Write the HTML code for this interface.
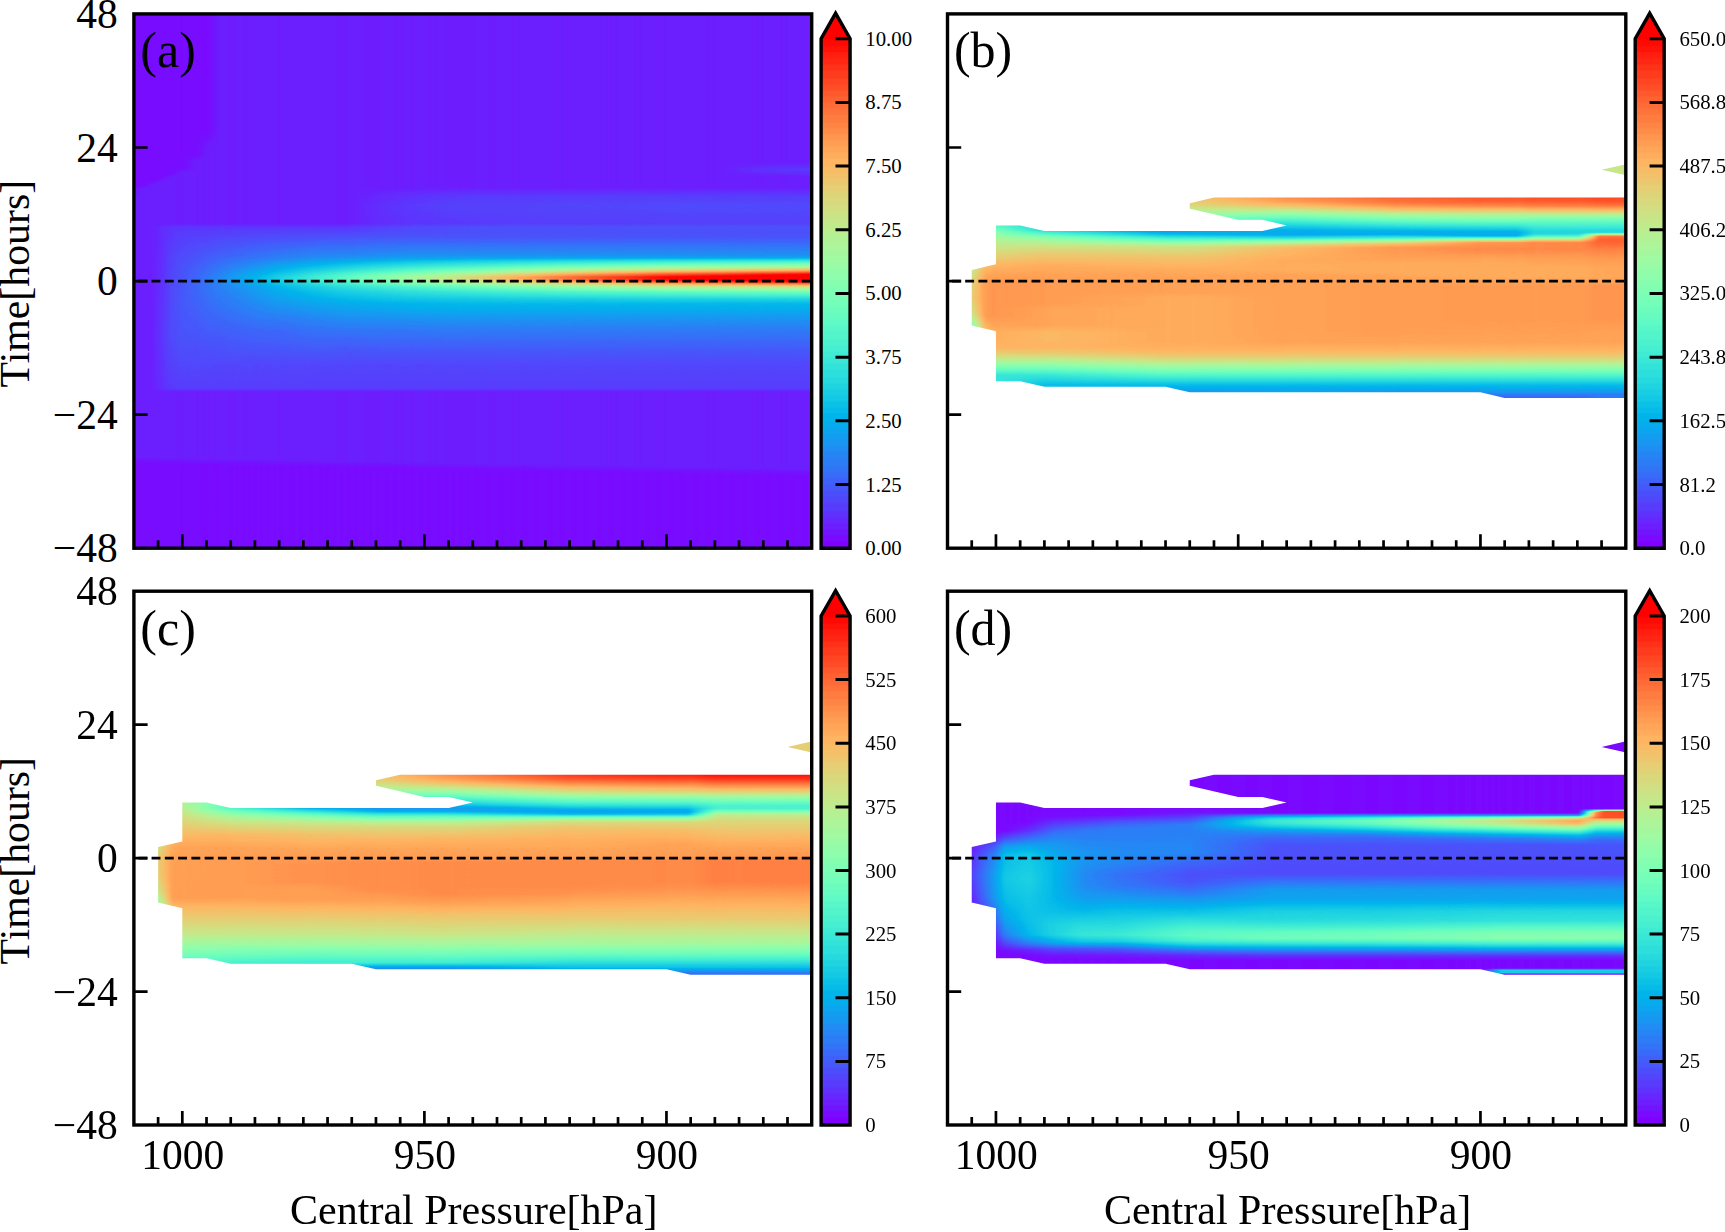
<!DOCTYPE html>
<html lang="en"><head><meta charset="utf-8"><title>Figure</title>
<style>html,body{margin:0;padding:0;background:#fff}svg{display:block}text{font-family:'Liberation Serif', 'Times New Roman', serif;fill:#000}</style></head><body>
<svg width="1725" height="1232" viewBox="0 0 1725 1232">
<rect width="1725" height="1232" fill="#fff"/>
<defs>
<linearGradient id="rg" x1="0" y1="0" x2="1" y2="0"><stop offset="0" stop-color="#fff" stop-opacity="0"/><stop offset="1" stop-color="#fff" stop-opacity="1"/></linearGradient>
<mask id="ramp" maskContentUnits="objectBoundingBox"><rect width="1" height="1" fill="url(#rg)"/></mask>
<filter id="cm" filterUnits="userSpaceOnUse" x="0" y="0" width="1725" height="1232" color-interpolation-filters="sRGB">
<feGaussianBlur stdDeviation="1.5 0"/><feComponentTransfer><feFuncR type="table" tableValues="0.5 0.475 0.45 0.425 0.4 0.375 0.35 0.325 0.3 0.275 0.25 0.225 0.2 0.175 0.15 0.125 0.1 0.075 0.05 0.025 0 0.025 0.05 0.075 0.1 0.125 0.15 0.175 0.2 0.225 0.25 0.275 0.3 0.325 0.35 0.375 0.4 0.425 0.45 0.475 0.5 0.525 0.55 0.575 0.6 0.625 0.65 0.675 0.7 0.725 0.75 0.775 0.8 0.825 0.85 0.875 0.9 0.925 0.95 0.975 1 1 1 1 1 1 1 1 1 1 1 1 1 1 1 1 1 1 1 1 1"/><feFuncG type="table" tableValues="0 0.039 0.078 0.118 0.156 0.195 0.233 0.271 0.309 0.346 0.383 0.419 0.454 0.489 0.522 0.556 0.588 0.619 0.649 0.679 0.707 0.734 0.76 0.785 0.809 0.831 0.853 0.872 0.891 0.908 0.924 0.938 0.951 0.962 0.972 0.981 0.988 0.993 0.997 0.999 1 0.999 0.997 0.993 0.988 0.981 0.972 0.962 0.951 0.938 0.924 0.908 0.891 0.872 0.853 0.831 0.809 0.785 0.76 0.734 0.707 0.679 0.649 0.619 0.588 0.556 0.522 0.489 0.454 0.419 0.383 0.346 0.309 0.271 0.233 0.195 0.156 0.118 0.078 0.039 0"/><feFuncB type="table" tableValues="1 1 0.999 0.998 0.997 0.995 0.993 0.991 0.988 0.984 0.981 0.977 0.972 0.968 0.962 0.957 0.951 0.945 0.938 0.931 0.924 0.916 0.908 0.9 0.891 0.882 0.872 0.863 0.853 0.842 0.831 0.82 0.809 0.797 0.785 0.773 0.76 0.748 0.734 0.721 0.707 0.693 0.679 0.664 0.649 0.634 0.619 0.604 0.588 0.572 0.556 0.539 0.522 0.506 0.489 0.471 0.454 0.436 0.419 0.401 0.383 0.364 0.346 0.328 0.309 0.29 0.271 0.252 0.233 0.214 0.195 0.176 0.156 0.137 0.118 0.098 0.078 0.059 0.039 0.02 0"/></feComponentTransfer></filter>
<filter id="cd" filterUnits="userSpaceOnUse" x="0" y="0" width="1725" height="1232" color-interpolation-filters="sRGB">
<feComponentTransfer><feFuncR type="discrete" tableValues="0.5 0.475 0.45 0.425 0.4 0.375 0.35 0.325 0.3 0.275 0.25 0.225 0.2 0.175 0.15 0.125 0.1 0.075 0.05 0.025 0 0.025 0.05 0.075 0.1 0.125 0.15 0.175 0.2 0.225 0.25 0.275 0.3 0.325 0.35 0.375 0.4 0.425 0.45 0.475 0.5 0.525 0.55 0.575 0.6 0.625 0.65 0.675 0.7 0.725 0.75 0.775 0.8 0.825 0.85 0.875 0.9 0.925 0.95 0.975 1 1 1 1 1 1 1 1 1 1 1 1 1 1 1 1 1 1 1 1 1"/><feFuncG type="discrete" tableValues="0 0.039 0.078 0.118 0.156 0.195 0.233 0.271 0.309 0.346 0.383 0.419 0.454 0.489 0.522 0.556 0.588 0.619 0.649 0.679 0.707 0.734 0.76 0.785 0.809 0.831 0.853 0.872 0.891 0.908 0.924 0.938 0.951 0.962 0.972 0.981 0.988 0.993 0.997 0.999 1 0.999 0.997 0.993 0.988 0.981 0.972 0.962 0.951 0.938 0.924 0.908 0.891 0.872 0.853 0.831 0.809 0.785 0.76 0.734 0.707 0.679 0.649 0.619 0.588 0.556 0.522 0.489 0.454 0.419 0.383 0.346 0.309 0.271 0.233 0.195 0.156 0.118 0.078 0.039 0"/><feFuncB type="discrete" tableValues="1 1 0.999 0.998 0.997 0.995 0.993 0.991 0.988 0.984 0.981 0.977 0.972 0.968 0.962 0.957 0.951 0.945 0.938 0.931 0.924 0.916 0.908 0.9 0.891 0.882 0.872 0.863 0.853 0.842 0.831 0.82 0.809 0.797 0.785 0.773 0.76 0.748 0.734 0.721 0.707 0.693 0.679 0.664 0.649 0.634 0.619 0.604 0.588 0.572 0.556 0.539 0.522 0.506 0.489 0.471 0.454 0.436 0.419 0.401 0.383 0.364 0.346 0.328 0.309 0.29 0.271 0.252 0.233 0.214 0.195 0.176 0.156 0.137 0.118 0.098 0.078 0.059 0.039 0.02 0"/></feComponentTransfer></filter>
<linearGradient id="a0" x1="0" y1="0" x2="0" y2="1">
<stop offset="0" stop-color="#040404"/><stop offset=".3344" stop-color="#040404"/><stop offset=".3385" stop-color="#0a0a0a"/><stop offset=".8292" stop-color="#0a0a0a"/><stop offset=".8417" stop-color="#040404"/><stop offset="1" stop-color="#040404"/>
</linearGradient>
<linearGradient id="a1" x1="0" y1="0" x2="0" y2="1">
<stop offset="0" stop-color="#040404"/><stop offset=".3208" stop-color="#040404"/><stop offset=".3271" stop-color="#0a0a0a"/><stop offset=".8292" stop-color="#0a0a0a"/><stop offset=".8427" stop-color="#040404"/><stop offset="1" stop-color="#040404"/>
</linearGradient>
<linearGradient id="a2" x1="0" y1="0" x2="0" y2="1">
<stop offset="0" stop-color="#040404"/><stop offset=".3135" stop-color="#040404"/><stop offset=".3198" stop-color="#0a0a0a"/><stop offset=".6042" stop-color="#0b0b0b"/><stop offset=".8292" stop-color="#0a0a0a"/><stop offset=".8427" stop-color="#040404"/><stop offset="1" stop-color="#040404"/>
</linearGradient>
<linearGradient id="a3" x1="0" y1="0" x2="0" y2="1">
<stop offset="0" stop-color="#040404"/><stop offset=".3104" stop-color="#040404"/><stop offset=".3167" stop-color="#0a0a0a"/><stop offset=".3927" stop-color="#0a0a0a"/><stop offset=".399" stop-color="#0c0c0c"/><stop offset=".6042" stop-color="#0e0e0e"/><stop offset=".701" stop-color="#0d0d0d"/><stop offset=".7073" stop-color="#0a0a0a"/><stop offset=".8292" stop-color="#0a0a0a"/><stop offset=".8427" stop-color="#040404"/><stop offset="1" stop-color="#040404"/>
</linearGradient>
<linearGradient id="a4" x1="0" y1="0" x2="0" y2="1">
<stop offset="0" stop-color="#040404"/><stop offset=".3063" stop-color="#040404"/><stop offset=".3125" stop-color="#0a0a0a"/><stop offset=".3927" stop-color="#0a0a0a"/><stop offset=".399" stop-color="#0e0e0e"/><stop offset=".6042" stop-color="#121212"/><stop offset=".701" stop-color="#0f0f0f"/><stop offset=".7073" stop-color="#0a0a0a"/><stop offset=".8302" stop-color="#0a0a0a"/><stop offset=".8427" stop-color="#040404"/><stop offset="1" stop-color="#040404"/>
</linearGradient>
<linearGradient id="a5" x1="0" y1="0" x2="0" y2="1">
<stop offset="0" stop-color="#040404"/><stop offset=".3021" stop-color="#040404"/><stop offset=".3083" stop-color="#0a0a0a"/><stop offset=".3927" stop-color="#0a0a0a"/><stop offset=".399" stop-color="#101010"/><stop offset=".4583" stop-color="#131313"/><stop offset=".6042" stop-color="#161616"/><stop offset=".701" stop-color="#121212"/><stop offset=".7073" stop-color="#0a0a0a"/><stop offset=".8302" stop-color="#0a0a0a"/><stop offset=".8438" stop-color="#040404"/><stop offset="1" stop-color="#040404"/>
</linearGradient>
<linearGradient id="a6" x1="0" y1="0" x2="0" y2="1">
<stop offset="0" stop-color="#040404"/><stop offset=".2979" stop-color="#040404"/><stop offset=".3042" stop-color="#0a0a0a"/><stop offset=".3927" stop-color="#0a0a0a"/><stop offset=".399" stop-color="#111111"/><stop offset=".4583" stop-color="#161616"/><stop offset=".5198" stop-color="#181818"/><stop offset=".6042" stop-color="#181818"/><stop offset=".701" stop-color="#131313"/><stop offset=".7073" stop-color="#0a0a0a"/><stop offset=".8302" stop-color="#0a0a0a"/><stop offset=".8438" stop-color="#040404"/><stop offset="1" stop-color="#040404"/>
</linearGradient>
<linearGradient id="a7" x1="0" y1="0" x2="0" y2="1">
<stop offset="0" stop-color="#040404"/><stop offset=".2875" stop-color="#040404"/><stop offset=".2917" stop-color="#060606"/><stop offset=".2958" stop-color="#0a0a0a"/><stop offset=".3927" stop-color="#0a0a0a"/><stop offset=".399" stop-color="#121212"/><stop offset=".4688" stop-color="#1a1a1a"/><stop offset=".5333" stop-color="#1d1d1d"/><stop offset=".6042" stop-color="#1b1b1b"/><stop offset=".701" stop-color="#141414"/><stop offset=".7073" stop-color="#0a0a0a"/><stop offset=".8302" stop-color="#0a0a0a"/><stop offset=".8438" stop-color="#040404"/><stop offset="1" stop-color="#040404"/>
</linearGradient>
<linearGradient id="a8" x1="0" y1="0" x2="0" y2="1">
<stop offset="0" stop-color="#040404"/><stop offset=".2635" stop-color="#040404"/><stop offset=".276" stop-color="#0a0a0a"/><stop offset=".3927" stop-color="#0a0a0a"/><stop offset=".399" stop-color="#121212"/><stop offset=".4688" stop-color="#1e1e1e"/><stop offset=".4927" stop-color="#212121"/><stop offset=".5198" stop-color="#222222"/><stop offset=".701" stop-color="#141414"/><stop offset=".7073" stop-color="#0a0a0a"/><stop offset=".8313" stop-color="#0a0a0a"/><stop offset=".8448" stop-color="#040404"/><stop offset="1" stop-color="#040404"/>
</linearGradient>
<linearGradient id="a9" x1="0" y1="0" x2="0" y2="1">
<stop offset="0" stop-color="#040404"/><stop offset=".2188" stop-color="#040404"/><stop offset=".25" stop-color="#0a0a0a"/><stop offset=".3927" stop-color="#0a0a0a"/><stop offset=".399" stop-color="#121212"/><stop offset=".4344" stop-color="#191919"/><stop offset=".4927" stop-color="#282828"/><stop offset=".4979" stop-color="#282828"/><stop offset=".5333" stop-color="#252525"/><stop offset=".6562" stop-color="#171717"/><stop offset=".701" stop-color="#141414"/><stop offset=".7073" stop-color="#0a0a0a"/><stop offset=".8313" stop-color="#0a0a0a"/><stop offset=".8448" stop-color="#040404"/><stop offset="1" stop-color="#040404"/>
</linearGradient>
<linearGradient id="a10" x1="0" y1="0" x2="0" y2="1">
<stop offset="0" stop-color="#0a0a0a"/><stop offset=".3927" stop-color="#0a0a0a"/><stop offset=".399" stop-color="#121212"/><stop offset=".4521" stop-color="#202020"/><stop offset=".4927" stop-color="#2e2e2e"/><stop offset=".4979" stop-color="#2e2e2e"/><stop offset=".5917" stop-color="#1f1f1f"/><stop offset=".6562" stop-color="#171717"/><stop offset=".701" stop-color="#141414"/><stop offset=".7073" stop-color="#0a0a0a"/><stop offset=".8313" stop-color="#0a0a0a"/><stop offset=".8448" stop-color="#040404"/><stop offset="1" stop-color="#040404"/>
</linearGradient>
<linearGradient id="a11" x1="0" y1="0" x2="0" y2="1">
<stop offset="0" stop-color="#0a0a0a"/><stop offset=".3927" stop-color="#0a0a0a"/><stop offset=".399" stop-color="#121212"/><stop offset=".4521" stop-color="#212121"/><stop offset=".4927" stop-color="#343434"/><stop offset=".499" stop-color="#343434"/><stop offset=".5115" stop-color="#2f2f2f"/><stop offset=".5917" stop-color="#202020"/><stop offset=".6562" stop-color="#171717"/><stop offset=".701" stop-color="#141414"/><stop offset=".7073" stop-color="#0a0a0a"/><stop offset=".8323" stop-color="#0a0a0a"/><stop offset=".8458" stop-color="#040404"/><stop offset="1" stop-color="#040404"/>
</linearGradient>
<linearGradient id="a12" x1="0" y1="0" x2="0" y2="1">
<stop offset="0" stop-color="#0a0a0a"/><stop offset=".3927" stop-color="#0a0a0a"/><stop offset=".399" stop-color="#121212"/><stop offset=".4198" stop-color="#191919"/><stop offset=".4562" stop-color="#272727"/><stop offset=".4927" stop-color="#404040"/><stop offset=".499" stop-color="#3f3f3f"/><stop offset=".5104" stop-color="#383838"/><stop offset=".5198" stop-color="#353535"/><stop offset=".5917" stop-color="#222222"/><stop offset=".6562" stop-color="#171717"/><stop offset=".701" stop-color="#141414"/><stop offset=".7073" stop-color="#0a0a0a"/><stop offset=".8333" stop-color="#0a0a0a"/><stop offset=".8458" stop-color="#040404"/><stop offset="1" stop-color="#040404"/>
</linearGradient>
<linearGradient id="a13" x1="0" y1="0" x2="0" y2="1">
<stop offset="0" stop-color="#0a0a0a"/><stop offset=".3927" stop-color="#0a0a0a"/><stop offset=".399" stop-color="#121212"/><stop offset=".4198" stop-color="#1a1a1a"/><stop offset=".4562" stop-color="#2b2b2b"/><stop offset=".4802" stop-color="#414141"/><stop offset=".4927" stop-color="#4e4e4e"/><stop offset=".499" stop-color="#4d4d4d"/><stop offset=".5104" stop-color="#424242"/><stop offset=".5198" stop-color="#3d3d3d"/><stop offset=".5719" stop-color="#292929"/><stop offset=".5917" stop-color="#232323"/><stop offset=".6562" stop-color="#171717"/><stop offset=".701" stop-color="#141414"/><stop offset=".7073" stop-color="#0a0a0a"/><stop offset=".8333" stop-color="#0a0a0a"/><stop offset=".8469" stop-color="#040404"/><stop offset="1" stop-color="#040404"/>
</linearGradient>
<linearGradient id="a14" x1="0" y1="0" x2="0" y2="1">
<stop offset="0" stop-color="#0a0a0a"/><stop offset=".3927" stop-color="#0a0a0a"/><stop offset=".399" stop-color="#121212"/><stop offset=".4062" stop-color="#151515"/><stop offset=".4198" stop-color="#1b1b1b"/><stop offset=".4562" stop-color="#303030"/><stop offset=".4802" stop-color="#4f4f4f"/><stop offset=".4865" stop-color="#5a5a5a"/><stop offset=".4927" stop-color="#626262"/><stop offset=".499" stop-color="#606060"/><stop offset=".5104" stop-color="#4f4f4f"/><stop offset=".5198" stop-color="#474747"/><stop offset=".5417" stop-color="#3a3a3a"/><stop offset=".5719" stop-color="#2d2d2d"/><stop offset=".5917" stop-color="#262626"/><stop offset=".6562" stop-color="#171717"/><stop offset=".701" stop-color="#141414"/><stop offset=".7073" stop-color="#0a0a0a"/><stop offset=".8354" stop-color="#0a0a0a"/><stop offset=".8479" stop-color="#040404"/><stop offset="1" stop-color="#040404"/>
</linearGradient>
<linearGradient id="a15" x1="0" y1="0" x2="0" y2="1">
<stop offset="0" stop-color="#0a0a0a"/><stop offset=".3927" stop-color="#0a0a0a"/><stop offset=".399" stop-color="#121212"/><stop offset=".4062" stop-color="#151515"/><stop offset=".4344" stop-color="#242424"/><stop offset=".4521" stop-color="#2e2e2e"/><stop offset=".4562" stop-color="#323232"/><stop offset=".4802" stop-color="#595959"/><stop offset=".4865" stop-color="#676767"/><stop offset=".4927" stop-color="#717171"/><stop offset=".499" stop-color="#6e6e6e"/><stop offset=".5104" stop-color="#585858"/><stop offset=".5198" stop-color="#4d4d4d"/><stop offset=".5417" stop-color="#3d3d3d"/><stop offset=".5917" stop-color="#272727"/><stop offset=".6292" stop-color="#1c1c1c"/><stop offset=".6562" stop-color="#171717"/><stop offset=".701" stop-color="#141414"/><stop offset=".7073" stop-color="#0a0a0a"/><stop offset=".8365" stop-color="#0a0a0a"/><stop offset=".849" stop-color="#040404"/><stop offset="1" stop-color="#040404"/>
</linearGradient>
<linearGradient id="a16" x1="0" y1="0" x2="0" y2="1">
<stop offset="0" stop-color="#0a0a0a"/><stop offset=".325" stop-color="#0a0a0a"/><stop offset=".3406" stop-color="#0d0d0d"/><stop offset=".3594" stop-color="#0f0f0f"/><stop offset=".3927" stop-color="#0e0e0e"/><stop offset=".399" stop-color="#151515"/><stop offset=".4062" stop-color="#171717"/><stop offset=".4167" stop-color="#1b1b1b"/><stop offset=".4521" stop-color="#303030"/><stop offset=".4562" stop-color="#343434"/><stop offset=".4625" stop-color="#414141"/><stop offset=".4719" stop-color="#525252"/><stop offset=".4802" stop-color="#636363"/><stop offset=".4865" stop-color="#747474"/><stop offset=".4927" stop-color="#818181"/><stop offset=".499" stop-color="#7d7d7d"/><stop offset=".5104" stop-color="#606060"/><stop offset=".5198" stop-color="#525252"/><stop offset=".5417" stop-color="#3f3f3f"/><stop offset=".5719" stop-color="#303030"/><stop offset=".5917" stop-color="#282828"/><stop offset=".6292" stop-color="#1d1d1d"/><stop offset=".6562" stop-color="#171717"/><stop offset=".701" stop-color="#141414"/><stop offset=".7073" stop-color="#0a0a0a"/><stop offset=".8365" stop-color="#0a0a0a"/><stop offset=".85" stop-color="#040404"/><stop offset="1" stop-color="#040404"/>
</linearGradient>
<linearGradient id="a17" x1="0" y1="0" x2="0" y2="1">
<stop offset="0" stop-color="#0a0a0a"/><stop offset=".325" stop-color="#0a0a0a"/><stop offset=".3406" stop-color="#101010"/><stop offset=".3594" stop-color="#131313"/><stop offset=".3927" stop-color="#111111"/><stop offset=".399" stop-color="#181818"/><stop offset=".4062" stop-color="#181818"/><stop offset=".4198" stop-color="#1d1d1d"/><stop offset=".4521" stop-color="#323232"/><stop offset=".4562" stop-color="#363636"/><stop offset=".4625" stop-color="#464646"/><stop offset=".4719" stop-color="#595959"/><stop offset=".4802" stop-color="#6e6e6e"/><stop offset=".4865" stop-color="#828282"/><stop offset=".4927" stop-color="#929292"/><stop offset=".499" stop-color="#8d8d8d"/><stop offset=".5104" stop-color="#6a6a6a"/><stop offset=".5198" stop-color="#585858"/><stop offset=".5333" stop-color="#494949"/><stop offset=".5417" stop-color="#414141"/><stop offset=".549" stop-color="#3e3e3e"/><stop offset=".5719" stop-color="#313131"/><stop offset=".5917" stop-color="#282828"/><stop offset=".6292" stop-color="#1d1d1d"/><stop offset=".6562" stop-color="#171717"/><stop offset=".701" stop-color="#141414"/><stop offset=".7073" stop-color="#0a0a0a"/><stop offset=".8385" stop-color="#0a0a0a"/><stop offset=".851" stop-color="#040404"/><stop offset="1" stop-color="#040404"/>
</linearGradient>
<linearGradient id="a18" x1="0" y1="0" x2="0" y2="1">
<stop offset="0" stop-color="#0a0a0a"/><stop offset=".325" stop-color="#0a0a0a"/><stop offset=".3406" stop-color="#121212"/><stop offset=".3594" stop-color="#151515"/><stop offset=".3927" stop-color="#121212"/><stop offset=".399" stop-color="#191919"/><stop offset=".4062" stop-color="#191919"/><stop offset=".4167" stop-color="#1b1b1b"/><stop offset=".4521" stop-color="#323232"/><stop offset=".4562" stop-color="#373737"/><stop offset=".4625" stop-color="#494949"/><stop offset=".4719" stop-color="#5f5f5f"/><stop offset=".4802" stop-color="#787878"/><stop offset=".4865" stop-color="#8f8f8f"/><stop offset=".4927" stop-color="#a2a2a2"/><stop offset=".499" stop-color="#9c9c9c"/><stop offset=".5104" stop-color="#717171"/><stop offset=".5198" stop-color="#5c5c5c"/><stop offset=".5333" stop-color="#4a4a4a"/><stop offset=".5417" stop-color="#424242"/><stop offset=".549" stop-color="#3f3f3f"/><stop offset=".5719" stop-color="#323232"/><stop offset=".5917" stop-color="#292929"/><stop offset=".6292" stop-color="#1d1d1d"/><stop offset=".6562" stop-color="#171717"/><stop offset=".701" stop-color="#141414"/><stop offset=".7073" stop-color="#0a0a0a"/><stop offset=".8396" stop-color="#0a0a0a"/><stop offset=".8531" stop-color="#040404"/><stop offset="1" stop-color="#040404"/>
</linearGradient>
<linearGradient id="a19" x1="0" y1="0" x2="0" y2="1">
<stop offset="0" stop-color="#0a0a0a"/><stop offset=".325" stop-color="#0a0a0a"/><stop offset=".3406" stop-color="#131313"/><stop offset=".3594" stop-color="#161616"/><stop offset=".3927" stop-color="#131313"/><stop offset=".399" stop-color="#1a1a1a"/><stop offset=".4062" stop-color="#1a1a1a"/><stop offset=".4167" stop-color="#1b1b1b"/><stop offset=".4521" stop-color="#323232"/><stop offset=".4562" stop-color="#383838"/><stop offset=".4625" stop-color="#4c4c4c"/><stop offset=".4719" stop-color="#646464"/><stop offset=".4802" stop-color="#808080"/><stop offset=".4865" stop-color="#9b9b9b"/><stop offset=".4927" stop-color="#b0b0b0"/><stop offset=".499" stop-color="#a9a9a9"/><stop offset=".5104" stop-color="#787878"/><stop offset=".5198" stop-color="#606060"/><stop offset=".5333" stop-color="#4b4b4b"/><stop offset=".5417" stop-color="#434343"/><stop offset=".549" stop-color="#3f3f3f"/><stop offset=".5719" stop-color="#323232"/><stop offset=".5917" stop-color="#292929"/><stop offset=".6292" stop-color="#1d1d1d"/><stop offset=".6562" stop-color="#171717"/><stop offset=".701" stop-color="#141414"/><stop offset=".7073" stop-color="#0a0a0a"/><stop offset=".8406" stop-color="#0a0a0a"/><stop offset=".8531" stop-color="#040404"/><stop offset="1" stop-color="#040404"/>
</linearGradient>
<linearGradient id="a20" x1="0" y1="0" x2="0" y2="1">
<stop offset="0" stop-color="#0a0a0a"/><stop offset=".325" stop-color="#0a0a0a"/><stop offset=".3406" stop-color="#131313"/><stop offset=".3594" stop-color="#161616"/><stop offset=".3927" stop-color="#141414"/><stop offset=".399" stop-color="#1a1a1a"/><stop offset=".4062" stop-color="#1a1a1a"/><stop offset=".4167" stop-color="#1b1b1b"/><stop offset=".4521" stop-color="#323232"/><stop offset=".4562" stop-color="#383838"/><stop offset=".4625" stop-color="#505050"/><stop offset=".4719" stop-color="#6d6d6d"/><stop offset=".4802" stop-color="#8e8e8e"/><stop offset=".4865" stop-color="#aeaeae"/><stop offset=".4927" stop-color="#c6c6c6"/><stop offset=".4979" stop-color="#c0c0c0"/><stop offset=".499" stop-color="#bebebe"/><stop offset=".5104" stop-color="#838383"/><stop offset=".5198" stop-color="#656565"/><stop offset=".5333" stop-color="#4d4d4d"/><stop offset=".5417" stop-color="#434343"/><stop offset=".549" stop-color="#3f3f3f"/><stop offset=".5719" stop-color="#323232"/><stop offset=".5917" stop-color="#292929"/><stop offset=".6292" stop-color="#1d1d1d"/><stop offset=".6562" stop-color="#171717"/><stop offset=".701" stop-color="#141414"/><stop offset=".7073" stop-color="#0a0a0a"/><stop offset=".8417" stop-color="#0a0a0a"/><stop offset=".8552" stop-color="#040404"/><stop offset="1" stop-color="#040404"/>
</linearGradient>
<linearGradient id="a21" x1="0" y1="0" x2="0" y2="1">
<stop offset="0" stop-color="#0a0a0a"/><stop offset=".325" stop-color="#0a0a0a"/><stop offset=".3406" stop-color="#131313"/><stop offset=".3594" stop-color="#171717"/><stop offset=".3927" stop-color="#141414"/><stop offset=".399" stop-color="#1b1b1b"/><stop offset=".4062" stop-color="#1a1a1a"/><stop offset=".4167" stop-color="#1b1b1b"/><stop offset=".4521" stop-color="#323232"/><stop offset=".4562" stop-color="#393939"/><stop offset=".4625" stop-color="#545454"/><stop offset=".4719" stop-color="#757575"/><stop offset=".4802" stop-color="#9c9c9c"/><stop offset=".4865" stop-color="#c1c1c1"/><stop offset=".4927" stop-color="#dddddd"/><stop offset=".4979" stop-color="#d6d6d6"/><stop offset=".499" stop-color="#d3d3d3"/><stop offset=".5104" stop-color="#8d8d8d"/><stop offset=".5198" stop-color="#6a6a6a"/><stop offset=".5333" stop-color="#4e4e4e"/><stop offset=".5417" stop-color="#434343"/><stop offset=".549" stop-color="#3f3f3f"/><stop offset=".5719" stop-color="#323232"/><stop offset=".5917" stop-color="#292929"/><stop offset=".6292" stop-color="#1d1d1d"/><stop offset=".6562" stop-color="#171717"/><stop offset=".701" stop-color="#141414"/><stop offset=".7073" stop-color="#0a0a0a"/><stop offset=".8438" stop-color="#0a0a0a"/><stop offset=".8573" stop-color="#040404"/><stop offset="1" stop-color="#040404"/>
</linearGradient>
<linearGradient id="a22" x1="0" y1="0" x2="0" y2="1">
<stop offset="0" stop-color="#0a0a0a"/><stop offset=".325" stop-color="#0a0a0a"/><stop offset=".3406" stop-color="#141414"/><stop offset=".3594" stop-color="#171717"/><stop offset=".3927" stop-color="#141414"/><stop offset=".399" stop-color="#1b1b1b"/><stop offset=".4062" stop-color="#1a1a1a"/><stop offset=".4167" stop-color="#1b1b1b"/><stop offset=".4521" stop-color="#323232"/><stop offset=".4562" stop-color="#393939"/><stop offset=".4625" stop-color="#575757"/><stop offset=".4719" stop-color="#7c7c7c"/><stop offset=".4802" stop-color="#a7a7a7"/><stop offset=".4865" stop-color="#cfcfcf"/><stop offset=".4927" stop-color="#efefef"/><stop offset=".4979" stop-color="#e7e7e7"/><stop offset=".499" stop-color="#e4e4e4"/><stop offset=".5052" stop-color="#b8b8b8"/><stop offset=".5104" stop-color="#969696"/><stop offset=".5198" stop-color="#6e6e6e"/><stop offset=".5333" stop-color="#4f4f4f"/><stop offset=".5417" stop-color="#434343"/><stop offset=".549" stop-color="#3f3f3f"/><stop offset=".5719" stop-color="#323232"/><stop offset=".5917" stop-color="#292929"/><stop offset=".6292" stop-color="#1d1d1d"/><stop offset=".6562" stop-color="#171717"/><stop offset=".701" stop-color="#141414"/><stop offset=".7073" stop-color="#0a0a0a"/><stop offset=".8448" stop-color="#0a0a0a"/><stop offset=".8583" stop-color="#040404"/><stop offset="1" stop-color="#040404"/>
</linearGradient>
<linearGradient id="a23" x1="0" y1="0" x2="0" y2="1">
<stop offset="0" stop-color="#0a0a0a"/><stop offset=".325" stop-color="#0a0a0a"/><stop offset=".3406" stop-color="#141414"/><stop offset=".3594" stop-color="#181818"/><stop offset=".3927" stop-color="#151515"/><stop offset=".399" stop-color="#1b1b1b"/><stop offset=".4062" stop-color="#1a1a1a"/><stop offset=".4167" stop-color="#1b1b1b"/><stop offset=".4521" stop-color="#323232"/><stop offset=".4562" stop-color="#3a3a3a"/><stop offset=".4625" stop-color="#5a5a5a"/><stop offset=".4719" stop-color="#828282"/><stop offset=".4802" stop-color="#b1b1b1"/><stop offset=".4865" stop-color="#dedede"/><stop offset=".4917" stop-color="#fbfbfb"/><stop offset=".4927" stop-color="#ffffff"/><stop offset=".4938" stop-color="#ffffff"/><stop offset=".4979" stop-color="#f8f8f8"/><stop offset=".499" stop-color="#f4f4f4"/><stop offset=".5052" stop-color="#c4c4c4"/><stop offset=".5104" stop-color="#9e9e9e"/><stop offset=".5198" stop-color="#727272"/><stop offset=".5333" stop-color="#505050"/><stop offset=".5417" stop-color="#434343"/><stop offset=".549" stop-color="#3f3f3f"/><stop offset=".5719" stop-color="#323232"/><stop offset=".5917" stop-color="#292929"/><stop offset=".6292" stop-color="#1d1d1d"/><stop offset=".6562" stop-color="#171717"/><stop offset=".701" stop-color="#141414"/><stop offset=".7073" stop-color="#0a0a0a"/><stop offset=".8469" stop-color="#0a0a0a"/><stop offset=".8604" stop-color="#040404"/><stop offset="1" stop-color="#040404"/>
</linearGradient>
<linearGradient id="a24" x1="0" y1="0" x2="0" y2="1">
<stop offset="0" stop-color="#0a0a0a"/><stop offset=".325" stop-color="#0a0a0a"/><stop offset=".3406" stop-color="#141414"/><stop offset=".3594" stop-color="#181818"/><stop offset=".3927" stop-color="#151515"/><stop offset=".399" stop-color="#1b1b1b"/><stop offset=".4062" stop-color="#1a1a1a"/><stop offset=".4167" stop-color="#1b1b1b"/><stop offset=".4521" stop-color="#323232"/><stop offset=".4562" stop-color="#3a3a3a"/><stop offset=".4625" stop-color="#5c5c5c"/><stop offset=".4719" stop-color="#868686"/><stop offset=".4802" stop-color="#b8b8b8"/><stop offset=".4865" stop-color="#e7e7e7"/><stop offset=".4906" stop-color="#ffffff"/><stop offset=".4979" stop-color="#ffffff"/><stop offset=".499" stop-color="#fefefe"/><stop offset=".5052" stop-color="#cbcbcb"/><stop offset=".5104" stop-color="#a3a3a3"/><stop offset=".5198" stop-color="#757575"/><stop offset=".5333" stop-color="#505050"/><stop offset=".5417" stop-color="#434343"/><stop offset=".549" stop-color="#3f3f3f"/><stop offset=".5719" stop-color="#323232"/><stop offset=".5917" stop-color="#292929"/><stop offset=".6292" stop-color="#1d1d1d"/><stop offset=".6562" stop-color="#171717"/><stop offset=".701" stop-color="#141414"/><stop offset=".7073" stop-color="#0a0a0a"/><stop offset=".8479" stop-color="#0a0a0a"/><stop offset=".8615" stop-color="#040404"/><stop offset="1" stop-color="#040404"/>
</linearGradient>
<linearGradient id="a25" x1="0" y1="0" x2="0" y2="1">
<stop offset="0" stop-color="#0a0a0a"/><stop offset=".2781" stop-color="#0a0a0a"/><stop offset=".2917" stop-color="#111111"/><stop offset=".3052" stop-color="#0a0a0a"/><stop offset=".325" stop-color="#0a0a0a"/><stop offset=".3406" stop-color="#141414"/><stop offset=".3594" stop-color="#181818"/><stop offset=".3927" stop-color="#151515"/><stop offset=".399" stop-color="#1b1b1b"/><stop offset=".4062" stop-color="#1a1a1a"/><stop offset=".4167" stop-color="#1b1b1b"/><stop offset=".4521" stop-color="#323232"/><stop offset=".4562" stop-color="#3a3a3a"/><stop offset=".4625" stop-color="#5e5e5e"/><stop offset=".4719" stop-color="#8a8a8a"/><stop offset=".4802" stop-color="#bfbfbf"/><stop offset=".4865" stop-color="#f1f1f1"/><stop offset=".4885" stop-color="#fefefe"/><stop offset=".4896" stop-color="#ffffff"/><stop offset=".5" stop-color="#ffffff"/><stop offset=".5104" stop-color="#a8a8a8"/><stop offset=".5115" stop-color="#a2a2a2"/><stop offset=".5198" stop-color="#777777"/><stop offset=".5333" stop-color="#515151"/><stop offset=".5417" stop-color="#434343"/><stop offset=".549" stop-color="#3f3f3f"/><stop offset=".5719" stop-color="#323232"/><stop offset=".5917" stop-color="#292929"/><stop offset=".6292" stop-color="#1d1d1d"/><stop offset=".6562" stop-color="#171717"/><stop offset=".701" stop-color="#141414"/><stop offset=".7073" stop-color="#0a0a0a"/><stop offset=".85" stop-color="#0a0a0a"/><stop offset=".8635" stop-color="#040404"/><stop offset="1" stop-color="#040404"/>
</linearGradient>
<linearGradient id="a26" x1="0" y1="0" x2="0" y2="1">
<stop offset="0" stop-color="#0a0a0a"/><stop offset=".2781" stop-color="#0a0a0a"/><stop offset=".2917" stop-color="#141414"/><stop offset=".3052" stop-color="#0a0a0a"/><stop offset=".325" stop-color="#0a0a0a"/><stop offset=".3406" stop-color="#141414"/><stop offset=".3594" stop-color="#181818"/><stop offset=".3927" stop-color="#151515"/><stop offset=".399" stop-color="#1b1b1b"/><stop offset=".4062" stop-color="#1a1a1a"/><stop offset=".4167" stop-color="#1b1b1b"/><stop offset=".4521" stop-color="#323232"/><stop offset=".4562" stop-color="#3b3b3b"/><stop offset=".4625" stop-color="#606060"/><stop offset=".4719" stop-color="#8e8e8e"/><stop offset=".4802" stop-color="#c5c5c5"/><stop offset=".4865" stop-color="#f9f9f9"/><stop offset=".4875" stop-color="#ffffff"/><stop offset=".501" stop-color="#ffffff"/><stop offset=".5104" stop-color="#adadad"/><stop offset=".5115" stop-color="#a6a6a6"/><stop offset=".5198" stop-color="#7a7a7a"/><stop offset=".5333" stop-color="#515151"/><stop offset=".5417" stop-color="#434343"/><stop offset=".549" stop-color="#3f3f3f"/><stop offset=".5719" stop-color="#323232"/><stop offset=".5917" stop-color="#292929"/><stop offset=".6292" stop-color="#1d1d1d"/><stop offset=".6562" stop-color="#171717"/><stop offset=".701" stop-color="#141414"/><stop offset=".7073" stop-color="#0a0a0a"/><stop offset=".8521" stop-color="#0a0a0a"/><stop offset=".8646" stop-color="#040404"/><stop offset="1" stop-color="#040404"/>
</linearGradient>
<linearGradient id="a27" x1="0" y1="0" x2="0" y2="1">
<stop offset="0" stop-color="#0a0a0a"/><stop offset=".2781" stop-color="#0a0a0a"/><stop offset=".2917" stop-color="#141414"/><stop offset=".3052" stop-color="#0a0a0a"/><stop offset=".325" stop-color="#0a0a0a"/><stop offset=".3406" stop-color="#141414"/><stop offset=".3594" stop-color="#181818"/><stop offset=".3927" stop-color="#151515"/><stop offset=".399" stop-color="#1b1b1b"/><stop offset=".4062" stop-color="#1a1a1a"/><stop offset=".4167" stop-color="#1b1b1b"/><stop offset=".4521" stop-color="#323232"/><stop offset=".4562" stop-color="#3b3b3b"/><stop offset=".4625" stop-color="#606060"/><stop offset=".4719" stop-color="#8f8f8f"/><stop offset=".4802" stop-color="#c6c6c6"/><stop offset=".4865" stop-color="#fbfbfb"/><stop offset=".4875" stop-color="#ffffff"/><stop offset=".501" stop-color="#ffffff"/><stop offset=".5021" stop-color="#f8f8f8"/><stop offset=".5104" stop-color="#aeaeae"/><stop offset=".5115" stop-color="#a7a7a7"/><stop offset=".5198" stop-color="#7a7a7a"/><stop offset=".5333" stop-color="#515151"/><stop offset=".5417" stop-color="#434343"/><stop offset=".549" stop-color="#3f3f3f"/><stop offset=".5719" stop-color="#323232"/><stop offset=".5917" stop-color="#292929"/><stop offset=".6292" stop-color="#1d1d1d"/><stop offset=".6562" stop-color="#171717"/><stop offset=".701" stop-color="#141414"/><stop offset=".7073" stop-color="#0a0a0a"/><stop offset=".8521" stop-color="#0a0a0a"/><stop offset=".8646" stop-color="#040404"/><stop offset="1" stop-color="#040404"/>
</linearGradient>
<linearGradient id="b0" x1="0" y1="0" x2="0" y2="1">
<stop offset="0" stop-color="#a3a3a3"/><stop offset=".3271" stop-color="#a3a3a3"/><stop offset=".3281" stop-color="#949494"/><stop offset=".4688" stop-color="#949494"/><stop offset=".5" stop-color="#a3a3a3"/><stop offset=".5312" stop-color="#a8a8a8"/><stop offset=".5625" stop-color="#999999"/><stop offset=".5833" stop-color="#7a7a7a"/><stop offset=".5938" stop-color="#737373"/><stop offset="1" stop-color="#737373"/>
</linearGradient>
<linearGradient id="b1" x1="0" y1="0" x2="0" y2="1">
<stop offset="0" stop-color="#a3a3a3"/><stop offset=".3271" stop-color="#a3a3a3"/><stop offset=".3281" stop-color="#999999"/><stop offset=".4688" stop-color="#999999"/><stop offset=".4792" stop-color="#9e9e9e"/><stop offset=".5" stop-color="#adadad"/><stop offset=".5312" stop-color="#b2b2b2"/><stop offset=".5625" stop-color="#a3a3a3"/><stop offset=".5833" stop-color="#808080"/><stop offset=".5938" stop-color="#737373"/><stop offset="1" stop-color="#737373"/>
</linearGradient>
<linearGradient id="b2" x1="0" y1="0" x2="0" y2="1">
<stop offset="0" stop-color="#a3a3a3"/><stop offset=".3271" stop-color="#a3a3a3"/><stop offset=".3281" stop-color="#6b6b6b"/><stop offset=".3958" stop-color="#6b6b6b"/><stop offset=".4062" stop-color="#808080"/><stop offset=".4229" stop-color="#999999"/><stop offset=".4469" stop-color="#adadad"/><stop offset=".4698" stop-color="#bababa"/><stop offset=".4896" stop-color="#c5c5c5"/><stop offset=".5042" stop-color="#c9c9c9"/><stop offset=".5646" stop-color="#c9c9c9"/><stop offset=".5802" stop-color="#c2c2c2"/><stop offset=".5969" stop-color="#b8b8b8"/><stop offset=".6083" stop-color="#b8b8b8"/><stop offset=".624" stop-color="#bfbfbf"/><stop offset=".6344" stop-color="#b5b5b5"/><stop offset=".6448" stop-color="#a3a3a3"/><stop offset=".676" stop-color="#5c5c5c"/><stop offset="1" stop-color="#5c5c5c"/>
</linearGradient>
<linearGradient id="b3" x1="0" y1="0" x2="0" y2="1">
<stop offset="0" stop-color="#a3a3a3"/><stop offset=".3271" stop-color="#a3a3a3"/><stop offset=".3281" stop-color="#6b6b6b"/><stop offset=".3958" stop-color="#6b6b6b"/><stop offset=".4062" stop-color="#808080"/><stop offset=".4229" stop-color="#999999"/><stop offset=".4698" stop-color="#bfbfbf"/><stop offset=".4896" stop-color="#c7c7c7"/><stop offset=".5042" stop-color="#cccccc"/><stop offset=".5646" stop-color="#cccccc"/><stop offset=".5969" stop-color="#c2c2c2"/><stop offset=".6083" stop-color="#c2c2c2"/><stop offset=".624" stop-color="#bfbfbf"/><stop offset=".6344" stop-color="#b5b5b5"/><stop offset=".6448" stop-color="#a3a3a3"/><stop offset=".676" stop-color="#5c5c5c"/><stop offset="1" stop-color="#5c5c5c"/>
</linearGradient>
<linearGradient id="b4" x1="0" y1="0" x2="0" y2="1">
<stop offset="0" stop-color="#a3a3a3"/><stop offset=".3271" stop-color="#a3a3a3"/><stop offset=".3281" stop-color="#4c4c4c"/><stop offset=".3958" stop-color="#4c4c4c"/><stop offset=".4052" stop-color="#545454"/><stop offset=".4167" stop-color="#808080"/><stop offset=".4292" stop-color="#9e9e9e"/><stop offset=".4469" stop-color="#b3b3b3"/><stop offset=".4698" stop-color="#c2c2c2"/><stop offset=".4896" stop-color="#c7c7c7"/><stop offset=".5042" stop-color="#cacaca"/><stop offset=".5417" stop-color="#cacaca"/><stop offset=".5521" stop-color="#c6c6c6"/><stop offset=".5833" stop-color="#c6c6c6"/><stop offset=".5969" stop-color="#bdbdbd"/><stop offset=".6083" stop-color="#bdbdbd"/><stop offset=".624" stop-color="#bfbfbf"/><stop offset=".6344" stop-color="#b5b5b5"/><stop offset=".6448" stop-color="#a3a3a3"/><stop offset=".676" stop-color="#5c5c5c"/><stop offset=".6937" stop-color="#454545"/><stop offset="1" stop-color="#454545"/>
</linearGradient>
<linearGradient id="b5" x1="0" y1="0" x2="0" y2="1">
<stop offset="0" stop-color="#a3a3a3"/><stop offset=".3271" stop-color="#a3a3a3"/><stop offset=".3281" stop-color="#333333"/><stop offset=".4062" stop-color="#333333"/><stop offset=".4135" stop-color="#474747"/><stop offset=".426" stop-color="#7f7f7f"/><stop offset=".4354" stop-color="#a6a6a6"/><stop offset=".4552" stop-color="#b8b8b8"/><stop offset=".4792" stop-color="#c3c3c3"/><stop offset=".4948" stop-color="#c7c7c7"/><stop offset=".5208" stop-color="#c7c7c7"/><stop offset=".5312" stop-color="#c3c3c3"/><stop offset=".6146" stop-color="#c3c3c3"/><stop offset=".6302" stop-color="#bfbfbf"/><stop offset=".6406" stop-color="#b5b5b5"/><stop offset=".651" stop-color="#a3a3a3"/><stop offset=".6823" stop-color="#5c5c5c"/><stop offset=".6937" stop-color="#454545"/><stop offset=".7083" stop-color="#333333"/><stop offset="1" stop-color="#333333"/>
</linearGradient>
<linearGradient id="b6" x1="0" y1="0" x2="0" y2="1">
<stop offset="0" stop-color="#a3a3a3"/><stop offset=".3271" stop-color="#a3a3a3"/><stop offset=".3281" stop-color="#b8b8b8"/><stop offset=".3438" stop-color="#b8b8b8"/><stop offset=".3594" stop-color="#adadad"/><stop offset=".3698" stop-color="#999999"/><stop offset=".3802" stop-color="#808080"/><stop offset=".3854" stop-color="#6e6e6e"/><stop offset=".3958" stop-color="#4f4f4f"/><stop offset=".4062" stop-color="#383838"/><stop offset=".4135" stop-color="#454545"/><stop offset=".426" stop-color="#7f7f7f"/><stop offset=".4354" stop-color="#a6a6a6"/><stop offset=".4552" stop-color="#b8b8b8"/><stop offset=".4792" stop-color="#c3c3c3"/><stop offset=".4948" stop-color="#c7c7c7"/><stop offset=".5208" stop-color="#c7c7c7"/><stop offset=".5312" stop-color="#c3c3c3"/><stop offset=".6146" stop-color="#c3c3c3"/><stop offset=".6302" stop-color="#bfbfbf"/><stop offset=".6406" stop-color="#b5b5b5"/><stop offset=".651" stop-color="#a3a3a3"/><stop offset=".6823" stop-color="#5c5c5c"/><stop offset=".6937" stop-color="#454545"/><stop offset=".7083" stop-color="#333333"/><stop offset="1" stop-color="#333333"/>
</linearGradient>
<linearGradient id="b7" x1="0" y1="0" x2="0" y2="1">
<stop offset="0" stop-color="#a3a3a3"/><stop offset=".3271" stop-color="#a3a3a3"/><stop offset=".3281" stop-color="#cfcfcf"/><stop offset=".3438" stop-color="#cfcfcf"/><stop offset=".3521" stop-color="#c7c7c7"/><stop offset=".3594" stop-color="#b8b8b8"/><stop offset=".3667" stop-color="#a3a3a3"/><stop offset=".375" stop-color="#878787"/><stop offset=".3854" stop-color="#696969"/><stop offset=".3958" stop-color="#4f4f4f"/><stop offset=".4062" stop-color="#3c3c3c"/><stop offset=".4135" stop-color="#3c3c3c"/><stop offset=".4198" stop-color="#595959"/><stop offset=".426" stop-color="#8c8c8c"/><stop offset=".4323" stop-color="#adadad"/><stop offset=".4385" stop-color="#bdbdbd"/><stop offset=".4625" stop-color="#c3c3c3"/><stop offset=".4792" stop-color="#c2c2c2"/><stop offset=".4896" stop-color="#c7c7c7"/><stop offset=".5917" stop-color="#c7c7c7"/><stop offset=".6146" stop-color="#c6c6c6"/><stop offset=".6302" stop-color="#bfbfbf"/><stop offset=".6406" stop-color="#b5b5b5"/><stop offset=".651" stop-color="#a3a3a3"/><stop offset=".6823" stop-color="#5c5c5c"/><stop offset=".6937" stop-color="#454545"/><stop offset=".7021" stop-color="#3b3b3b"/><stop offset="1" stop-color="#3b3b3b"/>
</linearGradient>
<linearGradient id="b8" x1="0" y1="0" x2="0" y2="1">
<stop offset="0" stop-color="#a3a3a3"/><stop offset=".3271" stop-color="#a3a3a3"/><stop offset=".3281" stop-color="#dedede"/><stop offset=".3438" stop-color="#dedede"/><stop offset=".3521" stop-color="#d9d9d9"/><stop offset=".3594" stop-color="#cccccc"/><stop offset=".3667" stop-color="#b8b8b8"/><stop offset=".375" stop-color="#999999"/><stop offset=".3917" stop-color="#666666"/><stop offset=".4" stop-color="#4f4f4f"/><stop offset=".4062" stop-color="#404040"/><stop offset=".4125" stop-color="#3b3b3b"/><stop offset=".4198" stop-color="#666666"/><stop offset=".425" stop-color="#999999"/><stop offset=".4313" stop-color="#bdbdbd"/><stop offset=".4375" stop-color="#cccccc"/><stop offset=".4583" stop-color="#c7c7c7"/><stop offset=".4688" stop-color="#c3c3c3"/><stop offset=".4844" stop-color="#c3c3c3"/><stop offset=".4948" stop-color="#c7c7c7"/><stop offset=".5104" stop-color="#c9c9c9"/><stop offset=".5938" stop-color="#c9c9c9"/><stop offset=".6146" stop-color="#c6c6c6"/><stop offset=".6302" stop-color="#bfbfbf"/><stop offset=".6406" stop-color="#b5b5b5"/><stop offset=".651" stop-color="#a3a3a3"/><stop offset=".6823" stop-color="#5c5c5c"/><stop offset=".6937" stop-color="#454545"/><stop offset=".7083" stop-color="#333333"/><stop offset=".7125" stop-color="#292929"/><stop offset=".7188" stop-color="#1f1f1f"/><stop offset="1" stop-color="#1f1f1f"/>
</linearGradient>
<linearGradient id="b9" x1="0" y1="0" x2="0" y2="1">
<stop offset="0" stop-color="#a3a3a3"/><stop offset=".3271" stop-color="#a3a3a3"/><stop offset=".3281" stop-color="#e3e3e3"/><stop offset=".3438" stop-color="#e3e3e3"/><stop offset=".3521" stop-color="#dedede"/><stop offset=".3594" stop-color="#d1d1d1"/><stop offset=".3667" stop-color="#bababa"/><stop offset=".375" stop-color="#9c9c9c"/><stop offset=".4" stop-color="#525252"/><stop offset=".4083" stop-color="#3d3d3d"/><stop offset=".4156" stop-color="#3d3d3d"/><stop offset=".424" stop-color="#a8a8a8"/><stop offset=".4281" stop-color="#cccccc"/><stop offset=".4406" stop-color="#d1d1d1"/><stop offset=".4604" stop-color="#c5c5c5"/><stop offset=".476" stop-color="#c3c3c3"/><stop offset=".4917" stop-color="#c3c3c3"/><stop offset=".5" stop-color="#c7c7c7"/><stop offset=".5104" stop-color="#cacaca"/><stop offset=".5729" stop-color="#cacaca"/><stop offset=".6146" stop-color="#c6c6c6"/><stop offset=".6302" stop-color="#bfbfbf"/><stop offset=".6406" stop-color="#b5b5b5"/><stop offset=".651" stop-color="#a3a3a3"/><stop offset=".6823" stop-color="#5c5c5c"/><stop offset=".6937" stop-color="#454545"/><stop offset=".7083" stop-color="#333333"/><stop offset=".7125" stop-color="#292929"/><stop offset=".7188" stop-color="#1f1f1f"/><stop offset="1" stop-color="#1f1f1f"/>
</linearGradient>
<linearGradient id="b10" x1="0" y1="0" x2="0" y2="1">
<stop offset="0" stop-color="#a3a3a3"/><stop offset=".3271" stop-color="#a3a3a3"/><stop offset=".3281" stop-color="#e3e3e3"/><stop offset=".3438" stop-color="#e3e3e3"/><stop offset=".3521" stop-color="#dedede"/><stop offset=".3594" stop-color="#d1d1d1"/><stop offset=".3667" stop-color="#bababa"/><stop offset=".375" stop-color="#9c9c9c"/><stop offset=".4" stop-color="#525252"/><stop offset=".4083" stop-color="#3d3d3d"/><stop offset=".4156" stop-color="#3d3d3d"/><stop offset=".424" stop-color="#a8a8a8"/><stop offset=".4281" stop-color="#cccccc"/><stop offset=".4406" stop-color="#d1d1d1"/><stop offset=".4604" stop-color="#c5c5c5"/><stop offset=".476" stop-color="#c3c3c3"/><stop offset=".4917" stop-color="#c3c3c3"/><stop offset=".5" stop-color="#c7c7c7"/><stop offset=".5104" stop-color="#cacaca"/><stop offset=".5729" stop-color="#cacaca"/><stop offset=".6146" stop-color="#c6c6c6"/><stop offset=".6302" stop-color="#bfbfbf"/><stop offset=".6406" stop-color="#b5b5b5"/><stop offset=".651" stop-color="#a3a3a3"/><stop offset=".6823" stop-color="#5c5c5c"/><stop offset=".6937" stop-color="#454545"/><stop offset=".7083" stop-color="#333333"/><stop offset=".7125" stop-color="#292929"/><stop offset=".7188" stop-color="#1f1f1f"/><stop offset="1" stop-color="#1f1f1f"/>
</linearGradient>
<linearGradient id="b11" x1="0" y1="0" x2="0" y2="1">
<stop offset="0" stop-color="#a3a3a3"/><stop offset=".3271" stop-color="#a3a3a3"/><stop offset=".3281" stop-color="#e6e6e6"/><stop offset=".3438" stop-color="#e6e6e6"/><stop offset=".3521" stop-color="#e0e0e0"/><stop offset=".3594" stop-color="#d4d4d4"/><stop offset=".3667" stop-color="#bdbdbd"/><stop offset=".3833" stop-color="#7f7f7f"/><stop offset=".3917" stop-color="#6b6b6b"/><stop offset=".4062" stop-color="#525252"/><stop offset=".4115" stop-color="#525252"/><stop offset=".4156" stop-color="#666666"/><stop offset=".4198" stop-color="#8c8c8c"/><stop offset=".424" stop-color="#b8b8b8"/><stop offset=".4281" stop-color="#d1d1d1"/><stop offset=".4406" stop-color="#d1d1d1"/><stop offset=".4604" stop-color="#c7c7c7"/><stop offset=".476" stop-color="#c3c3c3"/><stop offset=".4917" stop-color="#c3c3c3"/><stop offset=".5" stop-color="#c7c7c7"/><stop offset=".5104" stop-color="#cacaca"/><stop offset=".5729" stop-color="#cacaca"/><stop offset=".6146" stop-color="#c6c6c6"/><stop offset=".6302" stop-color="#bfbfbf"/><stop offset=".6406" stop-color="#b5b5b5"/><stop offset=".651" stop-color="#a3a3a3"/><stop offset=".6823" stop-color="#5c5c5c"/><stop offset=".6937" stop-color="#454545"/><stop offset=".7083" stop-color="#333333"/><stop offset=".7125" stop-color="#292929"/><stop offset=".7188" stop-color="#1f1f1f"/><stop offset="1" stop-color="#1f1f1f"/>
</linearGradient>
<linearGradient id="b12" x1="0" y1="0" x2="0" y2="1">
<stop offset="0" stop-color="#a3a3a3"/><stop offset=".3271" stop-color="#a3a3a3"/><stop offset=".3281" stop-color="#e6e6e6"/><stop offset=".3438" stop-color="#e6e6e6"/><stop offset=".3521" stop-color="#e0e0e0"/><stop offset=".3594" stop-color="#d4d4d4"/><stop offset=".3667" stop-color="#bdbdbd"/><stop offset=".3833" stop-color="#7f7f7f"/><stop offset=".3917" stop-color="#6b6b6b"/><stop offset=".4062" stop-color="#525252"/><stop offset=".4115" stop-color="#525252"/><stop offset=".4156" stop-color="#666666"/><stop offset=".4198" stop-color="#8c8c8c"/><stop offset=".424" stop-color="#b8b8b8"/><stop offset=".4281" stop-color="#d1d1d1"/><stop offset=".4406" stop-color="#d1d1d1"/><stop offset=".4604" stop-color="#c7c7c7"/><stop offset=".476" stop-color="#c3c3c3"/><stop offset=".4917" stop-color="#c3c3c3"/><stop offset=".5" stop-color="#c7c7c7"/><stop offset=".5104" stop-color="#cacaca"/><stop offset=".5729" stop-color="#cacaca"/><stop offset=".6146" stop-color="#c6c6c6"/><stop offset=".6302" stop-color="#bfbfbf"/><stop offset=".6406" stop-color="#b5b5b5"/><stop offset=".651" stop-color="#a3a3a3"/><stop offset=".6823" stop-color="#5c5c5c"/><stop offset=".6937" stop-color="#454545"/><stop offset=".7083" stop-color="#333333"/><stop offset=".7125" stop-color="#292929"/><stop offset=".7188" stop-color="#1f1f1f"/><stop offset="1" stop-color="#1f1f1f"/>
</linearGradient>
<linearGradient id="b13" x1="0" y1="0" x2="0" y2="1">
<stop offset="0" stop-color="#a3a3a3"/><stop offset=".3271" stop-color="#a3a3a3"/><stop offset=".3281" stop-color="#e8e8e8"/><stop offset=".3438" stop-color="#e8e8e8"/><stop offset=".3521" stop-color="#e3e3e3"/><stop offset=".3594" stop-color="#d6d6d6"/><stop offset=".3667" stop-color="#bfbfbf"/><stop offset=".375" stop-color="#9e9e9e"/><stop offset=".3833" stop-color="#7f7f7f"/><stop offset=".3917" stop-color="#6b6b6b"/><stop offset=".4062" stop-color="#525252"/><stop offset=".4094" stop-color="#575757"/><stop offset=".4125" stop-color="#999999"/><stop offset=".4156" stop-color="#d6d6d6"/><stop offset=".4219" stop-color="#e0e0e0"/><stop offset=".4281" stop-color="#dedede"/><stop offset=".4406" stop-color="#d4d4d4"/><stop offset=".4604" stop-color="#c9c9c9"/><stop offset=".476" stop-color="#c5c5c5"/><stop offset=".4917" stop-color="#c5c5c5"/><stop offset=".5031" stop-color="#c7c7c7"/><stop offset=".5073" stop-color="#cccccc"/><stop offset=".5708" stop-color="#cccccc"/><stop offset=".5938" stop-color="#c7c7c7"/><stop offset=".6146" stop-color="#c6c6c6"/><stop offset=".6302" stop-color="#bfbfbf"/><stop offset=".6406" stop-color="#b5b5b5"/><stop offset=".651" stop-color="#a3a3a3"/><stop offset=".6823" stop-color="#5c5c5c"/><stop offset=".6937" stop-color="#454545"/><stop offset=".7083" stop-color="#333333"/><stop offset=".7125" stop-color="#292929"/><stop offset="1" stop-color="#292929"/>
</linearGradient>
<linearGradient id="b14" x1="0" y1="0" x2="0" y2="1">
<stop offset="0" stop-color="#a3a3a3"/><stop offset=".3271" stop-color="#a3a3a3"/><stop offset=".3281" stop-color="#e8e8e8"/><stop offset=".3438" stop-color="#e8e8e8"/><stop offset=".3521" stop-color="#e3e3e3"/><stop offset=".3594" stop-color="#d6d6d6"/><stop offset=".3667" stop-color="#bfbfbf"/><stop offset=".375" stop-color="#9e9e9e"/><stop offset=".3833" stop-color="#7f7f7f"/><stop offset=".3917" stop-color="#6b6b6b"/><stop offset=".4062" stop-color="#525252"/><stop offset=".4094" stop-color="#575757"/><stop offset=".4125" stop-color="#999999"/><stop offset=".4156" stop-color="#d6d6d6"/><stop offset=".4219" stop-color="#e0e0e0"/><stop offset=".4281" stop-color="#dedede"/><stop offset=".4406" stop-color="#d4d4d4"/><stop offset=".4604" stop-color="#c9c9c9"/><stop offset=".476" stop-color="#c5c5c5"/><stop offset=".4917" stop-color="#c5c5c5"/><stop offset=".5031" stop-color="#c7c7c7"/><stop offset=".5073" stop-color="#cccccc"/><stop offset=".5708" stop-color="#cccccc"/><stop offset=".5938" stop-color="#c7c7c7"/><stop offset=".6146" stop-color="#c6c6c6"/><stop offset=".6302" stop-color="#bfbfbf"/><stop offset=".6406" stop-color="#b5b5b5"/><stop offset=".651" stop-color="#a3a3a3"/><stop offset=".6823" stop-color="#5c5c5c"/><stop offset=".6937" stop-color="#454545"/><stop offset=".7083" stop-color="#333333"/><stop offset=".7125" stop-color="#292929"/><stop offset="1" stop-color="#292929"/>
</linearGradient>
<linearGradient id="b15" x1="0" y1="0" x2="0" y2="1">
<stop offset="0" stop-color="#a3a3a3"/><stop offset=".3271" stop-color="#a3a3a3"/><stop offset=".3281" stop-color="#e8e8e8"/><stop offset=".3438" stop-color="#e8e8e8"/><stop offset=".3521" stop-color="#e3e3e3"/><stop offset=".3594" stop-color="#d6d6d6"/><stop offset=".3667" stop-color="#bfbfbf"/><stop offset=".375" stop-color="#9e9e9e"/><stop offset=".3833" stop-color="#7f7f7f"/><stop offset=".3917" stop-color="#6b6b6b"/><stop offset=".4062" stop-color="#525252"/><stop offset=".4094" stop-color="#575757"/><stop offset=".4125" stop-color="#999999"/><stop offset=".4156" stop-color="#d6d6d6"/><stop offset=".4219" stop-color="#e0e0e0"/><stop offset=".4281" stop-color="#dedede"/><stop offset=".4406" stop-color="#d4d4d4"/><stop offset=".4604" stop-color="#c9c9c9"/><stop offset=".476" stop-color="#c5c5c5"/><stop offset=".4917" stop-color="#c5c5c5"/><stop offset=".5031" stop-color="#c7c7c7"/><stop offset=".5073" stop-color="#cccccc"/><stop offset=".5708" stop-color="#cccccc"/><stop offset=".5938" stop-color="#c7c7c7"/><stop offset=".6146" stop-color="#c6c6c6"/><stop offset=".6302" stop-color="#bfbfbf"/><stop offset=".6406" stop-color="#b5b5b5"/><stop offset=".651" stop-color="#a3a3a3"/><stop offset=".6823" stop-color="#5c5c5c"/><stop offset=".6937" stop-color="#454545"/><stop offset=".7083" stop-color="#333333"/><stop offset=".7125" stop-color="#292929"/><stop offset="1" stop-color="#292929"/>
</linearGradient>
<linearGradient id="c0" x1="0" y1="0" x2="0" y2="1">
<stop offset="0" stop-color="#b2b2b2"/><stop offset=".3271" stop-color="#b2b2b2"/><stop offset=".3281" stop-color="#9e9e9e"/><stop offset=".4688" stop-color="#9e9e9e"/><stop offset=".5" stop-color="#adadad"/><stop offset=".5312" stop-color="#adadad"/><stop offset=".5625" stop-color="#9e9e9e"/><stop offset=".5833" stop-color="#878787"/><stop offset=".5938" stop-color="#808080"/><stop offset="1" stop-color="#808080"/>
</linearGradient>
<linearGradient id="c1" x1="0" y1="0" x2="0" y2="1">
<stop offset="0" stop-color="#b2b2b2"/><stop offset=".3271" stop-color="#b2b2b2"/><stop offset=".3281" stop-color="#a3a3a3"/><stop offset=".4688" stop-color="#a3a3a3"/><stop offset=".5" stop-color="#b2b2b2"/><stop offset=".5312" stop-color="#b2b2b2"/><stop offset=".5625" stop-color="#a3a3a3"/><stop offset=".5938" stop-color="#808080"/><stop offset="1" stop-color="#808080"/>
</linearGradient>
<linearGradient id="c2" x1="0" y1="0" x2="0" y2="1">
<stop offset="0" stop-color="#b2b2b2"/><stop offset=".3271" stop-color="#b2b2b2"/><stop offset=".3281" stop-color="#999999"/><stop offset=".3958" stop-color="#999999"/><stop offset=".4271" stop-color="#adadad"/><stop offset=".4792" stop-color="#c3c3c3"/><stop offset=".5" stop-color="#c7c7c7"/><stop offset=".575" stop-color="#c8c8c8"/><stop offset=".5938" stop-color="#bbbbbb"/><stop offset=".6156" stop-color="#b2b2b2"/><stop offset=".6406" stop-color="#a3a3a3"/><stop offset=".6771" stop-color="#808080"/><stop offset=".6979" stop-color="#696969"/><stop offset="1" stop-color="#696969"/>
</linearGradient>
<linearGradient id="c3" x1="0" y1="0" x2="0" y2="1">
<stop offset="0" stop-color="#b2b2b2"/><stop offset=".3271" stop-color="#b2b2b2"/><stop offset=".3281" stop-color="#999999"/><stop offset=".3958" stop-color="#999999"/><stop offset=".4271" stop-color="#adadad"/><stop offset=".4562" stop-color="#bdbdbd"/><stop offset=".4792" stop-color="#c6c6c6"/><stop offset=".5" stop-color="#c8c8c8"/><stop offset=".575" stop-color="#c9c9c9"/><stop offset=".5938" stop-color="#bdbdbd"/><stop offset=".6156" stop-color="#b2b2b2"/><stop offset=".6406" stop-color="#a3a3a3"/><stop offset=".6771" stop-color="#808080"/><stop offset=".6979" stop-color="#696969"/><stop offset="1" stop-color="#696969"/>
</linearGradient>
<linearGradient id="c4" x1="0" y1="0" x2="0" y2="1">
<stop offset="0" stop-color="#b2b2b2"/><stop offset=".3271" stop-color="#b2b2b2"/><stop offset=".3281" stop-color="#737373"/><stop offset=".3958" stop-color="#737373"/><stop offset=".4062" stop-color="#6b6b6b"/><stop offset=".4156" stop-color="#858585"/><stop offset=".4271" stop-color="#9e9e9e"/><stop offset=".4427" stop-color="#b0b0b0"/><stop offset=".4562" stop-color="#bdbdbd"/><stop offset=".4792" stop-color="#c6c6c6"/><stop offset=".5" stop-color="#c9c9c9"/><stop offset=".5729" stop-color="#c9c9c9"/><stop offset=".5938" stop-color="#bdbdbd"/><stop offset=".6156" stop-color="#b2b2b2"/><stop offset=".6406" stop-color="#a3a3a3"/><stop offset=".6594" stop-color="#919191"/><stop offset=".6958" stop-color="#666666"/><stop offset=".7021" stop-color="#525252"/><stop offset="1" stop-color="#525252"/>
</linearGradient>
<linearGradient id="c5" x1="0" y1="0" x2="0" y2="1">
<stop offset="0" stop-color="#b2b2b2"/><stop offset=".3271" stop-color="#b2b2b2"/><stop offset=".3281" stop-color="#404040"/><stop offset=".4062" stop-color="#404040"/><stop offset=".4156" stop-color="#6b6b6b"/><stop offset=".4271" stop-color="#949494"/><stop offset=".4375" stop-color="#a8a8a8"/><stop offset=".4562" stop-color="#bababa"/><stop offset=".4792" stop-color="#c4c4c4"/><stop offset=".5125" stop-color="#cdcdcd"/><stop offset=".5458" stop-color="#cdcdcd"/><stop offset=".5573" stop-color="#c8c8c8"/><stop offset=".5781" stop-color="#c8c8c8"/><stop offset=".6042" stop-color="#b8b8b8"/><stop offset=".6406" stop-color="#a3a3a3"/><stop offset=".6594" stop-color="#919191"/><stop offset=".6958" stop-color="#616161"/><stop offset=".7031" stop-color="#474747"/><stop offset=".7042" stop-color="#454545"/><stop offset="1" stop-color="#454545"/>
</linearGradient>
<linearGradient id="c6" x1="0" y1="0" x2="0" y2="1">
<stop offset="0" stop-color="#b2b2b2"/><stop offset=".3271" stop-color="#b2b2b2"/><stop offset=".3281" stop-color="#b8b8b8"/><stop offset=".3438" stop-color="#b8b8b8"/><stop offset=".3542" stop-color="#b2b2b2"/><stop offset=".3646" stop-color="#a3a3a3"/><stop offset=".375" stop-color="#8c8c8c"/><stop offset=".3854" stop-color="#737373"/><stop offset=".3958" stop-color="#545454"/><stop offset=".4062" stop-color="#333333"/><stop offset=".4125" stop-color="#404040"/><stop offset=".4208" stop-color="#6b6b6b"/><stop offset=".4302" stop-color="#949494"/><stop offset=".4417" stop-color="#adadad"/><stop offset=".4646" stop-color="#bebebe"/><stop offset=".4833" stop-color="#c6c6c6"/><stop offset=".5" stop-color="#c9c9c9"/><stop offset=".5083" stop-color="#cfcfcf"/><stop offset=".5573" stop-color="#cfcfcf"/><stop offset=".5781" stop-color="#c8c8c8"/><stop offset=".6406" stop-color="#a4a4a4"/><stop offset=".6594" stop-color="#939393"/><stop offset=".6958" stop-color="#616161"/><stop offset=".7031" stop-color="#3e3e3e"/><stop offset=".7073" stop-color="#2e2e2e"/><stop offset="1" stop-color="#2e2e2e"/>
</linearGradient>
<linearGradient id="c7" x1="0" y1="0" x2="0" y2="1">
<stop offset="0" stop-color="#b2b2b2"/><stop offset=".3271" stop-color="#b2b2b2"/><stop offset=".3281" stop-color="#cfcfcf"/><stop offset=".3438" stop-color="#cfcfcf"/><stop offset=".3521" stop-color="#c7c7c7"/><stop offset=".3604" stop-color="#b8b8b8"/><stop offset=".3688" stop-color="#a1a1a1"/><stop offset=".3854" stop-color="#6e6e6e"/><stop offset=".3937" stop-color="#575757"/><stop offset=".401" stop-color="#454545"/><stop offset=".4062" stop-color="#333333"/><stop offset=".4125" stop-color="#3d3d3d"/><stop offset=".4208" stop-color="#6b6b6b"/><stop offset=".4302" stop-color="#949494"/><stop offset=".4417" stop-color="#adadad"/><stop offset=".4646" stop-color="#bfbfbf"/><stop offset=".4833" stop-color="#c6c6c6"/><stop offset=".5" stop-color="#c9c9c9"/><stop offset=".5083" stop-color="#d0d0d0"/><stop offset=".5677" stop-color="#d0d0d0"/><stop offset=".5833" stop-color="#c8c8c8"/><stop offset=".6042" stop-color="#bababa"/><stop offset=".6406" stop-color="#a6a6a6"/><stop offset=".6594" stop-color="#949494"/><stop offset=".6958" stop-color="#616161"/><stop offset=".7031" stop-color="#3e3e3e"/><stop offset=".7073" stop-color="#2e2e2e"/><stop offset="1" stop-color="#2e2e2e"/>
</linearGradient>
<linearGradient id="c8" x1="0" y1="0" x2="0" y2="1">
<stop offset="0" stop-color="#b2b2b2"/><stop offset=".3271" stop-color="#b2b2b2"/><stop offset=".3281" stop-color="#ededed"/><stop offset=".3438" stop-color="#ededed"/><stop offset=".3521" stop-color="#e3e3e3"/><stop offset=".375" stop-color="#ababab"/><stop offset=".3823" stop-color="#949494"/><stop offset=".3885" stop-color="#7d7d7d"/><stop offset=".3958" stop-color="#696969"/><stop offset=".4083" stop-color="#404040"/><stop offset=".4125" stop-color="#363636"/><stop offset=".4177" stop-color="#424242"/><stop offset=".424" stop-color="#808080"/><stop offset=".4313" stop-color="#a8a8a8"/><stop offset=".4427" stop-color="#b8b8b8"/><stop offset=".4646" stop-color="#c1c1c1"/><stop offset=".5" stop-color="#c9c9c9"/><stop offset=".5052" stop-color="#d0d0d0"/><stop offset=".5521" stop-color="#d0d0d0"/><stop offset=".5677" stop-color="#cccccc"/><stop offset=".6156" stop-color="#b3b3b3"/><stop offset=".6406" stop-color="#a2a2a2"/><stop offset=".6594" stop-color="#939393"/><stop offset=".675" stop-color="#7d7d7d"/><stop offset=".6896" stop-color="#636363"/><stop offset=".699" stop-color="#505050"/><stop offset=".7052" stop-color="#454545"/><stop offset=".7167" stop-color="#242424"/><stop offset="1" stop-color="#242424"/>
</linearGradient>
<linearGradient id="c9" x1="0" y1="0" x2="0" y2="1">
<stop offset="0" stop-color="#b2b2b2"/><stop offset=".3271" stop-color="#b2b2b2"/><stop offset=".3281" stop-color="#f5f5f5"/><stop offset=".3438" stop-color="#f5f5f5"/><stop offset=".3521" stop-color="#e8e8e8"/><stop offset=".375" stop-color="#b0b0b0"/><stop offset=".3823" stop-color="#999999"/><stop offset=".3885" stop-color="#808080"/><stop offset=".3958" stop-color="#6b6b6b"/><stop offset=".4083" stop-color="#424242"/><stop offset=".4135" stop-color="#383838"/><stop offset=".4188" stop-color="#4d4d4d"/><stop offset=".425" stop-color="#8c8c8c"/><stop offset=".4333" stop-color="#adadad"/><stop offset=".4479" stop-color="#bbbbbb"/><stop offset=".474" stop-color="#c6c6c6"/><stop offset=".4969" stop-color="#c9c9c9"/><stop offset=".5052" stop-color="#d0d0d0"/><stop offset=".5448" stop-color="#d0d0d0"/><stop offset=".5604" stop-color="#cccccc"/><stop offset=".6156" stop-color="#b3b3b3"/><stop offset=".6406" stop-color="#a2a2a2"/><stop offset=".6594" stop-color="#939393"/><stop offset=".675" stop-color="#7d7d7d"/><stop offset=".6896" stop-color="#636363"/><stop offset=".699" stop-color="#505050"/><stop offset=".7052" stop-color="#454545"/><stop offset=".7167" stop-color="#242424"/><stop offset="1" stop-color="#242424"/>
</linearGradient>
<linearGradient id="c10" x1="0" y1="0" x2="0" y2="1">
<stop offset="0" stop-color="#b2b2b2"/><stop offset=".3271" stop-color="#b2b2b2"/><stop offset=".3281" stop-color="#f5f5f5"/><stop offset=".3438" stop-color="#f5f5f5"/><stop offset=".3521" stop-color="#e8e8e8"/><stop offset=".375" stop-color="#b0b0b0"/><stop offset=".3823" stop-color="#999999"/><stop offset=".3885" stop-color="#808080"/><stop offset=".3958" stop-color="#6b6b6b"/><stop offset=".4083" stop-color="#424242"/><stop offset=".4135" stop-color="#383838"/><stop offset=".4188" stop-color="#4d4d4d"/><stop offset=".425" stop-color="#8c8c8c"/><stop offset=".4333" stop-color="#adadad"/><stop offset=".4479" stop-color="#bbbbbb"/><stop offset=".474" stop-color="#c6c6c6"/><stop offset=".4969" stop-color="#c9c9c9"/><stop offset=".5052" stop-color="#d0d0d0"/><stop offset=".5448" stop-color="#d0d0d0"/><stop offset=".5604" stop-color="#cccccc"/><stop offset=".6156" stop-color="#b3b3b3"/><stop offset=".6406" stop-color="#a2a2a2"/><stop offset=".6594" stop-color="#939393"/><stop offset=".675" stop-color="#7d7d7d"/><stop offset=".6896" stop-color="#636363"/><stop offset=".699" stop-color="#505050"/><stop offset=".7052" stop-color="#454545"/><stop offset=".7167" stop-color="#242424"/><stop offset="1" stop-color="#242424"/>
</linearGradient>
<linearGradient id="c11" x1="0" y1="0" x2="0" y2="1">
<stop offset="0" stop-color="#b2b2b2"/><stop offset=".3271" stop-color="#b2b2b2"/><stop offset=".3281" stop-color="#fafafa"/><stop offset=".3438" stop-color="#fafafa"/><stop offset=".3521" stop-color="#ededed"/><stop offset=".3688" stop-color="#c4c4c4"/><stop offset=".375" stop-color="#b2b2b2"/><stop offset=".3823" stop-color="#9c9c9c"/><stop offset=".3885" stop-color="#858585"/><stop offset=".3958" stop-color="#737373"/><stop offset=".4021" stop-color="#666666"/><stop offset=".4073" stop-color="#666666"/><stop offset=".4188" stop-color="#9e9e9e"/><stop offset=".4292" stop-color="#adadad"/><stop offset=".474" stop-color="#c4c4c4"/><stop offset=".4969" stop-color="#cbcbcb"/><stop offset=".5052" stop-color="#d4d4d4"/><stop offset=".5448" stop-color="#d4d4d4"/><stop offset=".6156" stop-color="#b3b3b3"/><stop offset=".6406" stop-color="#a2a2a2"/><stop offset=".6594" stop-color="#939393"/><stop offset=".675" stop-color="#7d7d7d"/><stop offset=".6896" stop-color="#636363"/><stop offset=".699" stop-color="#505050"/><stop offset=".7052" stop-color="#454545"/><stop offset=".7167" stop-color="#242424"/><stop offset="1" stop-color="#242424"/>
</linearGradient>
<linearGradient id="c12" x1="0" y1="0" x2="0" y2="1">
<stop offset="0" stop-color="#b2b2b2"/><stop offset=".3271" stop-color="#b2b2b2"/><stop offset=".3281" stop-color="#fafafa"/><stop offset=".3438" stop-color="#fafafa"/><stop offset=".3521" stop-color="#ededed"/><stop offset=".3688" stop-color="#c4c4c4"/><stop offset=".375" stop-color="#b2b2b2"/><stop offset=".3823" stop-color="#9c9c9c"/><stop offset=".3885" stop-color="#858585"/><stop offset=".3958" stop-color="#737373"/><stop offset=".4021" stop-color="#666666"/><stop offset=".4073" stop-color="#666666"/><stop offset=".4188" stop-color="#9e9e9e"/><stop offset=".4292" stop-color="#adadad"/><stop offset=".474" stop-color="#c4c4c4"/><stop offset=".4969" stop-color="#cbcbcb"/><stop offset=".5052" stop-color="#d4d4d4"/><stop offset=".5448" stop-color="#d4d4d4"/><stop offset=".6156" stop-color="#b3b3b3"/><stop offset=".6406" stop-color="#a2a2a2"/><stop offset=".6594" stop-color="#939393"/><stop offset=".675" stop-color="#7d7d7d"/><stop offset=".6896" stop-color="#636363"/><stop offset=".699" stop-color="#505050"/><stop offset=".7052" stop-color="#454545"/><stop offset=".7167" stop-color="#242424"/><stop offset="1" stop-color="#242424"/>
</linearGradient>
<linearGradient id="c13" x1="0" y1="0" x2="0" y2="1">
<stop offset="0" stop-color="#b2b2b2"/><stop offset=".3271" stop-color="#b2b2b2"/><stop offset=".3281" stop-color="#fafafa"/><stop offset=".3438" stop-color="#fafafa"/><stop offset=".3521" stop-color="#ededed"/><stop offset=".3688" stop-color="#c4c4c4"/><stop offset=".375" stop-color="#b2b2b2"/><stop offset=".3823" stop-color="#9c9c9c"/><stop offset=".3885" stop-color="#858585"/><stop offset=".3958" stop-color="#737373"/><stop offset=".4021" stop-color="#666666"/><stop offset=".4073" stop-color="#666666"/><stop offset=".4188" stop-color="#9e9e9e"/><stop offset=".4292" stop-color="#adadad"/><stop offset=".474" stop-color="#c4c4c4"/><stop offset=".4969" stop-color="#cbcbcb"/><stop offset=".5052" stop-color="#d4d4d4"/><stop offset=".5448" stop-color="#d4d4d4"/><stop offset=".6156" stop-color="#b3b3b3"/><stop offset=".6406" stop-color="#a2a2a2"/><stop offset=".6594" stop-color="#939393"/><stop offset=".675" stop-color="#7d7d7d"/><stop offset=".6896" stop-color="#636363"/><stop offset=".699" stop-color="#505050"/><stop offset=".7052" stop-color="#454545"/><stop offset=".7167" stop-color="#242424"/><stop offset="1" stop-color="#242424"/>
</linearGradient>
<linearGradient id="d0" x1="0" y1="0" x2="0" y2="1">
<stop offset="0" stop-color="#050505"/><stop offset=".4688" stop-color="#050505"/><stop offset=".5" stop-color="#0d0d0d"/><stop offset=".5312" stop-color="#121212"/><stop offset=".5625" stop-color="#0d0d0d"/><stop offset=".5938" stop-color="#050505"/><stop offset="1" stop-color="#050505"/>
</linearGradient>
<linearGradient id="d1" x1="0" y1="0" x2="0" y2="1">
<stop offset="0" stop-color="#050505"/><stop offset=".4688" stop-color="#050505"/><stop offset=".5" stop-color="#0f0f0f"/><stop offset=".5312" stop-color="#141414"/><stop offset=".5625" stop-color="#0f0f0f"/><stop offset=".5938" stop-color="#050505"/><stop offset="1" stop-color="#050505"/>
</linearGradient>
<linearGradient id="d2" x1="0" y1="0" x2="0" y2="1">
<stop offset="0" stop-color="#030303"/><stop offset=".4531" stop-color="#030303"/><stop offset=".4635" stop-color="#0d0d0d"/><stop offset=".4792" stop-color="#212121"/><stop offset=".5" stop-color="#303030"/><stop offset=".5312" stop-color="#383838"/><stop offset=".5729" stop-color="#363636"/><stop offset=".6042" stop-color="#262626"/><stop offset=".6562" stop-color="#080808"/><stop offset=".6719" stop-color="#030303"/><stop offset="1" stop-color="#030303"/>
</linearGradient>
<linearGradient id="d3" x1="0" y1="0" x2="0" y2="1">
<stop offset="0" stop-color="#030303"/><stop offset=".4479" stop-color="#030303"/><stop offset=".4635" stop-color="#1a1a1a"/><stop offset=".4792" stop-color="#383838"/><stop offset=".4948" stop-color="#454545"/><stop offset=".5385" stop-color="#4a4a4a"/><stop offset=".575" stop-color="#454545"/><stop offset=".6135" stop-color="#3b3b3b"/><stop offset=".6438" stop-color="#2b2b2b"/><stop offset=".674" stop-color="#050505"/><stop offset=".6875" stop-color="#030303"/><stop offset="1" stop-color="#030303"/>
</linearGradient>
<linearGradient id="d4" x1="0" y1="0" x2="0" y2="1">
<stop offset="0" stop-color="#030303"/><stop offset=".4323" stop-color="#030303"/><stop offset=".4479" stop-color="#0f0f0f"/><stop offset=".4792" stop-color="#3d3d3d"/><stop offset=".4948" stop-color="#4a4a4a"/><stop offset=".5385" stop-color="#4f4f4f"/><stop offset=".575" stop-color="#4a4a4a"/><stop offset=".6135" stop-color="#474747"/><stop offset=".6438" stop-color="#424242"/><stop offset=".6604" stop-color="#292929"/><stop offset=".6719" stop-color="#0d0d0d"/><stop offset=".6823" stop-color="#030303"/><stop offset="1" stop-color="#030303"/>
</linearGradient>
<linearGradient id="d5" x1="0" y1="0" x2="0" y2="1">
<stop offset="0" stop-color="#030303"/><stop offset=".4062" stop-color="#030303"/><stop offset=".4229" stop-color="#050505"/><stop offset=".4531" stop-color="#262626"/><stop offset=".4708" stop-color="#333333"/><stop offset=".5083" stop-color="#424242"/><stop offset=".576" stop-color="#424242"/><stop offset=".5979" stop-color="#454545"/><stop offset=".625" stop-color="#4f4f4f"/><stop offset=".6438" stop-color="#4f4f4f"/><stop offset=".6583" stop-color="#3b3b3b"/><stop offset=".6698" stop-color="#1a1a1a"/><stop offset=".6813" stop-color="#080808"/><stop offset=".6885" stop-color="#030303"/><stop offset="1" stop-color="#030303"/>
</linearGradient>
<linearGradient id="d6" x1="0" y1="0" x2="0" y2="1">
<stop offset="0" stop-color="#030303"/><stop offset=".4062" stop-color="#030303"/><stop offset=".4208" stop-color="#050505"/><stop offset=".4479" stop-color="#282828"/><stop offset=".4896" stop-color="#333333"/><stop offset=".5083" stop-color="#333333"/><stop offset=".5312" stop-color="#2f2f2f"/><stop offset=".5521" stop-color="#303030"/><stop offset=".576" stop-color="#373737"/><stop offset=".5979" stop-color="#424242"/><stop offset=".625" stop-color="#545454"/><stop offset=".6438" stop-color="#5c5c5c"/><stop offset=".6573" stop-color="#474747"/><stop offset=".6698" stop-color="#1c1c1c"/><stop offset=".6813" stop-color="#090909"/><stop offset=".6896" stop-color="#030303"/><stop offset="1" stop-color="#030303"/>
</linearGradient>
<linearGradient id="d7" x1="0" y1="0" x2="0" y2="1">
<stop offset="0" stop-color="#030303"/><stop offset=".4062" stop-color="#030303"/><stop offset=".4188" stop-color="#050505"/><stop offset=".4313" stop-color="#1a1a1a"/><stop offset=".4437" stop-color="#292929"/><stop offset=".4896" stop-color="#303030"/><stop offset=".5083" stop-color="#2e2e2e"/><stop offset=".5312" stop-color="#262626"/><stop offset=".5521" stop-color="#292929"/><stop offset=".576" stop-color="#363636"/><stop offset=".5979" stop-color="#454545"/><stop offset=".6438" stop-color="#5e5e5e"/><stop offset=".6562" stop-color="#4c4c4c"/><stop offset=".6698" stop-color="#1f1f1f"/><stop offset=".6813" stop-color="#0a0a0a"/><stop offset=".6896" stop-color="#030303"/><stop offset="1" stop-color="#030303"/>
</linearGradient>
<linearGradient id="d8" x1="0" y1="0" x2="0" y2="1">
<stop offset="0" stop-color="#030303"/><stop offset=".4062" stop-color="#030303"/><stop offset=".4156" stop-color="#080808"/><stop offset=".4375" stop-color="#2b2b2b"/><stop offset=".4896" stop-color="#2e2e2e"/><stop offset=".5021" stop-color="#252525"/><stop offset=".5156" stop-color="#1f1f1f"/><stop offset=".5312" stop-color="#1a1a1a"/><stop offset=".5458" stop-color="#1c1c1c"/><stop offset=".5615" stop-color="#262626"/><stop offset=".6062" stop-color="#4c4c4c"/><stop offset=".6354" stop-color="#6b6b6b"/><stop offset=".6448" stop-color="#707070"/><stop offset=".6542" stop-color="#666666"/><stop offset=".6635" stop-color="#4a4a4a"/><stop offset=".6729" stop-color="#262626"/><stop offset=".6823" stop-color="#0d0d0d"/><stop offset=".6917" stop-color="#030303"/><stop offset="1" stop-color="#030303"/>
</linearGradient>
<linearGradient id="d9" x1="0" y1="0" x2="0" y2="1">
<stop offset="0" stop-color="#030303"/><stop offset=".4156" stop-color="#030303"/><stop offset=".4198" stop-color="#2a2a2a"/><stop offset=".425" stop-color="#505050"/><stop offset=".4302" stop-color="#5e5e5e"/><stop offset=".4354" stop-color="#5a5a5a"/><stop offset=".4417" stop-color="#4a4a4a"/><stop offset=".449" stop-color="#343434"/><stop offset=".4562" stop-color="#292929"/><stop offset=".4635" stop-color="#212121"/><stop offset=".475" stop-color="#1b1b1b"/><stop offset=".5281" stop-color="#181818"/><stop offset=".5365" stop-color="#1f1f1f"/><stop offset=".5604" stop-color="#363636"/><stop offset=".576" stop-color="#393939"/><stop offset=".6" stop-color="#4e4e4e"/><stop offset=".6167" stop-color="#545454"/><stop offset=".6281" stop-color="#616161"/><stop offset=".6396" stop-color="#737373"/><stop offset=".65" stop-color="#787878"/><stop offset=".6594" stop-color="#5c5c5c"/><stop offset=".6677" stop-color="#3e3e3e"/><stop offset=".676" stop-color="#232323"/><stop offset=".6833" stop-color="#0f0f0f"/><stop offset=".6917" stop-color="#030303"/><stop offset="1" stop-color="#030303"/>
</linearGradient>
<linearGradient id="d10" x1="0" y1="0" x2="0" y2="1">
<stop offset="0" stop-color="#030303"/><stop offset=".4156" stop-color="#030303"/><stop offset=".4198" stop-color="#333333"/><stop offset=".425" stop-color="#646464"/><stop offset=".4302" stop-color="#757575"/><stop offset=".4354" stop-color="#6f6f6f"/><stop offset=".4417" stop-color="#5b5b5b"/><stop offset=".449" stop-color="#414141"/><stop offset=".4562" stop-color="#2a2a2a"/><stop offset=".4635" stop-color="#212121"/><stop offset=".475" stop-color="#1b1b1b"/><stop offset=".5281" stop-color="#181818"/><stop offset=".5365" stop-color="#1f1f1f"/><stop offset=".5604" stop-color="#363636"/><stop offset=".576" stop-color="#393939"/><stop offset=".6" stop-color="#4e4e4e"/><stop offset=".6167" stop-color="#555555"/><stop offset=".6281" stop-color="#636363"/><stop offset=".6396" stop-color="#767676"/><stop offset=".65" stop-color="#7a7a7a"/><stop offset=".6594" stop-color="#5e5e5e"/><stop offset=".6677" stop-color="#404040"/><stop offset=".676" stop-color="#232323"/><stop offset=".6833" stop-color="#0f0f0f"/><stop offset=".6917" stop-color="#030303"/><stop offset="1" stop-color="#030303"/>
</linearGradient>
<linearGradient id="d11" x1="0" y1="0" x2="0" y2="1">
<stop offset="0" stop-color="#030303"/><stop offset=".4156" stop-color="#030303"/><stop offset=".4198" stop-color="#333333"/><stop offset=".425" stop-color="#808080"/><stop offset=".4302" stop-color="#969696"/><stop offset=".4354" stop-color="#8f8f8f"/><stop offset=".4417" stop-color="#757575"/><stop offset=".449" stop-color="#535353"/><stop offset=".4562" stop-color="#363636"/><stop offset=".4635" stop-color="#242424"/><stop offset=".475" stop-color="#1b1b1b"/><stop offset=".5281" stop-color="#181818"/><stop offset=".5365" stop-color="#1f1f1f"/><stop offset=".5604" stop-color="#363636"/><stop offset=".576" stop-color="#393939"/><stop offset=".6" stop-color="#505050"/><stop offset=".6167" stop-color="#575757"/><stop offset=".6281" stop-color="#676767"/><stop offset=".6396" stop-color="#7b7b7b"/><stop offset=".65" stop-color="#7f7f7f"/><stop offset=".6594" stop-color="#626262"/><stop offset=".6677" stop-color="#424242"/><stop offset=".676" stop-color="#252525"/><stop offset=".6833" stop-color="#0f0f0f"/><stop offset=".6917" stop-color="#030303"/><stop offset="1" stop-color="#030303"/>
</linearGradient>
<linearGradient id="d12" x1="0" y1="0" x2="0" y2="1">
<stop offset="0" stop-color="#030303"/><stop offset=".4156" stop-color="#030303"/><stop offset=".4198" stop-color="#333333"/><stop offset=".425" stop-color="#898989"/><stop offset=".4302" stop-color="#a1a1a1"/><stop offset=".4354" stop-color="#999999"/><stop offset=".4417" stop-color="#7d7d7d"/><stop offset=".449" stop-color="#585858"/><stop offset=".4562" stop-color="#3a3a3a"/><stop offset=".4635" stop-color="#272727"/><stop offset=".475" stop-color="#1b1b1b"/><stop offset=".5281" stop-color="#181818"/><stop offset=".5365" stop-color="#1f1f1f"/><stop offset=".5604" stop-color="#363636"/><stop offset=".576" stop-color="#393939"/><stop offset=".6" stop-color="#515151"/><stop offset=".6167" stop-color="#585858"/><stop offset=".6281" stop-color="#696969"/><stop offset=".6396" stop-color="#7d7d7d"/><stop offset=".65" stop-color="#828282"/><stop offset=".6594" stop-color="#646464"/><stop offset=".6677" stop-color="#444444"/><stop offset=".676" stop-color="#262626"/><stop offset=".6833" stop-color="#0f0f0f"/><stop offset=".6917" stop-color="#030303"/><stop offset="1" stop-color="#030303"/>
</linearGradient>
<linearGradient id="d13" x1="0" y1="0" x2="0" y2="1">
<stop offset="0" stop-color="#030303"/><stop offset=".4156" stop-color="#030303"/><stop offset=".4198" stop-color="#333333"/><stop offset=".425" stop-color="#8f8f8f"/><stop offset=".4302" stop-color="#a8a8a8"/><stop offset=".4354" stop-color="#a0a0a0"/><stop offset=".4417" stop-color="#838383"/><stop offset=".449" stop-color="#5d5d5d"/><stop offset=".4562" stop-color="#3d3d3d"/><stop offset=".4635" stop-color="#282828"/><stop offset=".475" stop-color="#1b1b1b"/><stop offset=".5281" stop-color="#181818"/><stop offset=".5365" stop-color="#1f1f1f"/><stop offset=".5604" stop-color="#363636"/><stop offset=".576" stop-color="#393939"/><stop offset=".5885" stop-color="#454545"/><stop offset=".6" stop-color="#525252"/><stop offset=".6167" stop-color="#595959"/><stop offset=".6281" stop-color="#6b6b6b"/><stop offset=".6396" stop-color="#7f7f7f"/><stop offset=".65" stop-color="#858585"/><stop offset=".6594" stop-color="#666666"/><stop offset=".6677" stop-color="#454545"/><stop offset=".676" stop-color="#262626"/><stop offset=".6833" stop-color="#0f0f0f"/><stop offset=".6917" stop-color="#030303"/><stop offset=".7063" stop-color="#030303"/><stop offset=".7073" stop-color="#121212"/><stop offset=".7094" stop-color="#4c4c4c"/><stop offset=".7104" stop-color="#4c4c4c"/><stop offset=".7146" stop-color="#4c4c4c"/><stop offset=".7177" stop-color="#080808"/><stop offset=".7208" stop-color="#030303"/><stop offset="1" stop-color="#030303"/>
</linearGradient>
<linearGradient id="d14" x1="0" y1="0" x2="0" y2="1">
<stop offset="0" stop-color="#030303"/><stop offset=".4156" stop-color="#030303"/><stop offset=".4198" stop-color="#333333"/><stop offset=".425" stop-color="#9a9a9a"/><stop offset=".4302" stop-color="#b5b5b5"/><stop offset=".4354" stop-color="#acacac"/><stop offset=".4417" stop-color="#8d8d8d"/><stop offset=".449" stop-color="#646464"/><stop offset=".4562" stop-color="#414141"/><stop offset=".4635" stop-color="#2b2b2b"/><stop offset=".475" stop-color="#1b1b1b"/><stop offset=".5281" stop-color="#181818"/><stop offset=".5365" stop-color="#1f1f1f"/><stop offset=".5604" stop-color="#363636"/><stop offset=".576" stop-color="#393939"/><stop offset=".5885" stop-color="#454545"/><stop offset=".6" stop-color="#525252"/><stop offset=".6167" stop-color="#595959"/><stop offset=".6281" stop-color="#6b6b6b"/><stop offset=".6396" stop-color="#7f7f7f"/><stop offset=".65" stop-color="#858585"/><stop offset=".6594" stop-color="#666666"/><stop offset=".6677" stop-color="#454545"/><stop offset=".676" stop-color="#262626"/><stop offset=".6833" stop-color="#0f0f0f"/><stop offset=".6917" stop-color="#030303"/><stop offset=".7063" stop-color="#030303"/><stop offset=".7073" stop-color="#121212"/><stop offset=".7094" stop-color="#4c4c4c"/><stop offset=".7104" stop-color="#4c4c4c"/><stop offset=".7146" stop-color="#4c4c4c"/><stop offset=".7177" stop-color="#080808"/><stop offset=".7208" stop-color="#030303"/><stop offset="1" stop-color="#030303"/>
</linearGradient>
<linearGradient id="d15" x1="0" y1="0" x2="0" y2="1">
<stop offset="0" stop-color="#030303"/><stop offset=".4156" stop-color="#030303"/><stop offset=".4198" stop-color="#333333"/><stop offset=".425" stop-color="#a9a9a9"/><stop offset=".4302" stop-color="#c7c7c7"/><stop offset=".4354" stop-color="#bdbdbd"/><stop offset=".4417" stop-color="#9b9b9b"/><stop offset=".449" stop-color="#6d6d6d"/><stop offset=".4562" stop-color="#484848"/><stop offset=".4635" stop-color="#303030"/><stop offset=".475" stop-color="#1b1b1b"/><stop offset=".5281" stop-color="#181818"/><stop offset=".5365" stop-color="#1f1f1f"/><stop offset=".5604" stop-color="#363636"/><stop offset=".576" stop-color="#393939"/><stop offset=".5885" stop-color="#454545"/><stop offset=".6" stop-color="#525252"/><stop offset=".6167" stop-color="#595959"/><stop offset=".6281" stop-color="#6b6b6b"/><stop offset=".6396" stop-color="#7f7f7f"/><stop offset=".65" stop-color="#858585"/><stop offset=".6594" stop-color="#666666"/><stop offset=".6677" stop-color="#454545"/><stop offset=".676" stop-color="#262626"/><stop offset=".6833" stop-color="#0f0f0f"/><stop offset=".6917" stop-color="#030303"/><stop offset=".7063" stop-color="#030303"/><stop offset=".7073" stop-color="#121212"/><stop offset=".7094" stop-color="#4c4c4c"/><stop offset=".7104" stop-color="#4c4c4c"/><stop offset=".7146" stop-color="#4c4c4c"/><stop offset=".7177" stop-color="#080808"/><stop offset=".7208" stop-color="#030303"/><stop offset="1" stop-color="#030303"/>
</linearGradient>
<linearGradient id="d16" x1="0" y1="0" x2="0" y2="1">
<stop offset="0" stop-color="#030303"/><stop offset=".4073" stop-color="#030303"/><stop offset=".4104" stop-color="#666666"/><stop offset=".4135" stop-color="#cccccc"/><stop offset=".424" stop-color="#d9d9d9"/><stop offset=".4281" stop-color="#b8b8b8"/><stop offset=".4344" stop-color="#999999"/><stop offset=".4417" stop-color="#737373"/><stop offset=".45" stop-color="#4c4c4c"/><stop offset=".4583" stop-color="#333333"/><stop offset=".4656" stop-color="#242424"/><stop offset=".475" stop-color="#1c1c1c"/><stop offset=".4969" stop-color="#1a1a1a"/><stop offset=".5281" stop-color="#181818"/><stop offset=".5365" stop-color="#1f1f1f"/><stop offset=".5604" stop-color="#363636"/><stop offset=".576" stop-color="#393939"/><stop offset=".5885" stop-color="#454545"/><stop offset=".6" stop-color="#525252"/><stop offset=".6167" stop-color="#595959"/><stop offset=".6281" stop-color="#6b6b6b"/><stop offset=".6396" stop-color="#7f7f7f"/><stop offset=".65" stop-color="#858585"/><stop offset=".6594" stop-color="#666666"/><stop offset=".6677" stop-color="#454545"/><stop offset=".676" stop-color="#262626"/><stop offset=".6833" stop-color="#0f0f0f"/><stop offset=".6917" stop-color="#030303"/><stop offset=".7063" stop-color="#030303"/><stop offset=".7073" stop-color="#121212"/><stop offset=".7094" stop-color="#4c4c4c"/><stop offset=".7104" stop-color="#4c4c4c"/><stop offset=".7146" stop-color="#4c4c4c"/><stop offset=".7177" stop-color="#080808"/><stop offset=".7208" stop-color="#030303"/><stop offset="1" stop-color="#030303"/>
</linearGradient>
<linearGradient id="d17" x1="0" y1="0" x2="0" y2="1">
<stop offset="0" stop-color="#030303"/><stop offset=".4073" stop-color="#030303"/><stop offset=".4104" stop-color="#7f7f7f"/><stop offset=".4125" stop-color="#e5e5e5"/><stop offset=".4135" stop-color="#e6e6e6"/><stop offset=".424" stop-color="#e5e5e5"/><stop offset=".4281" stop-color="#b8b8b8"/><stop offset=".4344" stop-color="#999999"/><stop offset=".4417" stop-color="#737373"/><stop offset=".45" stop-color="#4c4c4c"/><stop offset=".4583" stop-color="#333333"/><stop offset=".4656" stop-color="#242424"/><stop offset=".475" stop-color="#1c1c1c"/><stop offset=".4969" stop-color="#1a1a1a"/><stop offset=".5281" stop-color="#181818"/><stop offset=".5365" stop-color="#1f1f1f"/><stop offset=".5604" stop-color="#363636"/><stop offset=".576" stop-color="#393939"/><stop offset=".5885" stop-color="#454545"/><stop offset=".6" stop-color="#525252"/><stop offset=".6167" stop-color="#595959"/><stop offset=".6281" stop-color="#6b6b6b"/><stop offset=".6396" stop-color="#7f7f7f"/><stop offset=".65" stop-color="#858585"/><stop offset=".6594" stop-color="#666666"/><stop offset=".6677" stop-color="#454545"/><stop offset=".676" stop-color="#262626"/><stop offset=".6833" stop-color="#0f0f0f"/><stop offset=".6917" stop-color="#030303"/><stop offset=".7063" stop-color="#030303"/><stop offset=".7073" stop-color="#121212"/><stop offset=".7094" stop-color="#4c4c4c"/><stop offset=".7104" stop-color="#4c4c4c"/><stop offset=".7146" stop-color="#4c4c4c"/><stop offset=".7177" stop-color="#080808"/><stop offset=".7208" stop-color="#030303"/><stop offset="1" stop-color="#030303"/>
</linearGradient>
<linearGradient id="d18" x1="0" y1="0" x2="0" y2="1">
<stop offset="0" stop-color="#030303"/><stop offset=".4073" stop-color="#030303"/><stop offset=".4104" stop-color="#7f7f7f"/><stop offset=".4125" stop-color="#e5e5e5"/><stop offset=".4135" stop-color="#e6e6e6"/><stop offset=".424" stop-color="#e5e5e5"/><stop offset=".4281" stop-color="#b8b8b8"/><stop offset=".4344" stop-color="#999999"/><stop offset=".4417" stop-color="#737373"/><stop offset=".45" stop-color="#4c4c4c"/><stop offset=".4583" stop-color="#333333"/><stop offset=".4656" stop-color="#242424"/><stop offset=".475" stop-color="#1c1c1c"/><stop offset=".4969" stop-color="#1a1a1a"/><stop offset=".5281" stop-color="#181818"/><stop offset=".5365" stop-color="#1f1f1f"/><stop offset=".5604" stop-color="#363636"/><stop offset=".576" stop-color="#393939"/><stop offset=".5885" stop-color="#454545"/><stop offset=".6" stop-color="#525252"/><stop offset=".6167" stop-color="#595959"/><stop offset=".6281" stop-color="#6b6b6b"/><stop offset=".6396" stop-color="#7f7f7f"/><stop offset=".65" stop-color="#858585"/><stop offset=".6594" stop-color="#666666"/><stop offset=".6677" stop-color="#454545"/><stop offset=".676" stop-color="#262626"/><stop offset=".6833" stop-color="#0f0f0f"/><stop offset=".6917" stop-color="#030303"/><stop offset=".7063" stop-color="#030303"/><stop offset=".7073" stop-color="#121212"/><stop offset=".7094" stop-color="#4c4c4c"/><stop offset=".7104" stop-color="#4c4c4c"/><stop offset=".7146" stop-color="#4c4c4c"/><stop offset=".7177" stop-color="#080808"/><stop offset=".7208" stop-color="#030303"/><stop offset="1" stop-color="#030303"/>
</linearGradient>
<linearGradient id="cbg" x1="0" y1="1" x2="0" y2="0"><stop offset="0" stop-color="#000"/><stop offset="1" stop-color="#fcfcfc"/></linearGradient>
<clipPath id="cra"><rect x="133.9" y="13.9" width="677.8" height="534.3"/></clipPath>
<clipPath id="crb"><rect x="947.5" y="13.9" width="678.3" height="534.3"/></clipPath>
<clipPath id="clb"><polygon points="971.73,269.92 995.95,264.35 995.95,225.39 1020.17,225.39 1044.4,230.96 1262.42,230.96 1286.65,225.39 1262.42,219.83 1238.2,219.83 1189.75,208.7 1189.75,203.13 1213.97,197.57 1674.25,197.57 1674.25,397.93 1504.67,397.93 1480.45,392.36 1189.75,392.36 1165.53,386.8 1044.4,386.8 1020.17,381.23 995.95,381.23 995.95,331.14 971.73,325.58"/><polygon points="1601.58,169.74 1650.03,158.61 1650.03,180.87"/></clipPath>
<clipPath id="crc"><rect x="133.9" y="591.2" width="677.8" height="533.8"/></clipPath>
<clipPath id="clc"><polygon points="158.11,846.98 182.31,841.42 182.31,802.5 206.52,802.5 230.73,808.06 448.59,808.06 472.8,802.5 448.59,796.94 424.39,796.94 375.97,785.81 375.97,780.25 400.18,774.69 860.11,774.69 860.11,974.87 690.66,974.87 666.46,969.31 375.97,969.31 351.76,963.75 230.73,963.75 206.52,958.19 182.31,958.19 182.31,908.14 158.11,902.58"/><polygon points="787.49,746.89 835.91,735.77 835.91,758.01"/></clipPath>
<clipPath id="crd"><rect x="947.5" y="591.2" width="678.3" height="533.8"/></clipPath>
<clipPath id="cld"><polygon points="971.73,846.98 995.95,841.42 995.95,802.5 1020.17,802.5 1044.4,808.06 1262.42,808.06 1286.65,802.5 1262.42,796.94 1238.2,796.94 1189.75,785.81 1189.75,780.25 1213.97,774.69 1674.25,774.69 1674.25,974.87 1504.67,974.87 1480.45,969.31 1189.75,969.31 1165.53,963.75 1044.4,963.75 1020.17,958.19 995.95,958.19 995.95,908.14 971.73,902.58"/><polygon points="1601.58,746.89 1650.03,735.77 1650.03,758.01"/></clipPath>
</defs>
<g clip-path="url(#cra)"><g filter="url(#cm)">
<rect x="121" y="13.9" width="21" height="534.3" fill="url(#a0)"/>
<rect x="121" y="13.9" width="21" height="534.3" fill="url(#a1)" mask="url(#ramp)"/>
<rect x="142" y="13.9" width="10" height="534.3" fill="url(#a1)"/>
<rect x="142" y="13.9" width="10" height="534.3" fill="url(#a2)" mask="url(#ramp)"/>
<rect x="152" y="13.9" width="5" height="534.3" fill="url(#a2)"/>
<rect x="152" y="13.9" width="5" height="534.3" fill="url(#a3)" mask="url(#ramp)"/>
<rect x="157" y="13.9" width="5" height="534.3" fill="url(#a3)"/>
<rect x="157" y="13.9" width="5" height="534.3" fill="url(#a4)" mask="url(#ramp)"/>
<rect x="162" y="13.9" width="5" height="534.3" fill="url(#a4)"/>
<rect x="162" y="13.9" width="5" height="534.3" fill="url(#a5)" mask="url(#ramp)"/>
<rect x="167" y="13.9" width="5" height="534.3" fill="url(#a5)"/>
<rect x="167" y="13.9" width="5" height="534.3" fill="url(#a6)" mask="url(#ramp)"/>
<rect x="172" y="13.9" width="9" height="534.3" fill="url(#a6)"/>
<rect x="172" y="13.9" width="9" height="534.3" fill="url(#a7)" mask="url(#ramp)"/>
<rect x="181" y="13.9" width="15" height="534.3" fill="url(#a7)"/>
<rect x="181" y="13.9" width="15" height="534.3" fill="url(#a8)" mask="url(#ramp)"/>
<rect x="196" y="13.9" width="12" height="534.3" fill="url(#a8)"/>
<rect x="196" y="13.9" width="12" height="534.3" fill="url(#a9)" mask="url(#ramp)"/>
<rect x="208" y="13.9" width="12" height="534.3" fill="url(#a9)"/>
<rect x="208" y="13.9" width="12" height="534.3" fill="url(#a10)" mask="url(#ramp)"/>
<rect x="220" y="13.9" width="10" height="534.3" fill="url(#a10)"/>
<rect x="220" y="13.9" width="10" height="534.3" fill="url(#a11)" mask="url(#ramp)"/>
<rect x="230" y="13.9" width="24" height="534.3" fill="url(#a11)"/>
<rect x="230" y="13.9" width="24" height="534.3" fill="url(#a12)" mask="url(#ramp)"/>
<rect x="254" y="13.9" width="25" height="534.3" fill="url(#a12)"/>
<rect x="254" y="13.9" width="25" height="534.3" fill="url(#a13)" mask="url(#ramp)"/>
<rect x="279" y="13.9" width="39" height="534.3" fill="url(#a13)"/>
<rect x="279" y="13.9" width="39" height="534.3" fill="url(#a14)" mask="url(#ramp)"/>
<rect x="318" y="13.9" width="29" height="534.3" fill="url(#a14)"/>
<rect x="318" y="13.9" width="29" height="534.3" fill="url(#a15)" mask="url(#ramp)"/>
<rect x="347" y="13.9" width="29" height="534.3" fill="url(#a15)"/>
<rect x="347" y="13.9" width="29" height="534.3" fill="url(#a16)" mask="url(#ramp)"/>
<rect x="376" y="13.9" width="34" height="534.3" fill="url(#a16)"/>
<rect x="376" y="13.9" width="34" height="534.3" fill="url(#a17)" mask="url(#ramp)"/>
<rect x="410" y="13.9" width="34" height="534.3" fill="url(#a17)"/>
<rect x="410" y="13.9" width="34" height="534.3" fill="url(#a18)" mask="url(#ramp)"/>
<rect x="444" y="13.9" width="30" height="534.3" fill="url(#a18)"/>
<rect x="444" y="13.9" width="30" height="534.3" fill="url(#a19)" mask="url(#ramp)"/>
<rect x="474" y="13.9" width="48" height="534.3" fill="url(#a19)"/>
<rect x="474" y="13.9" width="48" height="534.3" fill="url(#a20)" mask="url(#ramp)"/>
<rect x="522" y="13.9" width="49" height="534.3" fill="url(#a20)"/>
<rect x="522" y="13.9" width="49" height="534.3" fill="url(#a21)" mask="url(#ramp)"/>
<rect x="571" y="13.9" width="49" height="534.3" fill="url(#a21)"/>
<rect x="571" y="13.9" width="49" height="534.3" fill="url(#a22)" mask="url(#ramp)"/>
<rect x="620" y="13.9" width="48" height="534.3" fill="url(#a22)"/>
<rect x="620" y="13.9" width="48" height="534.3" fill="url(#a23)" mask="url(#ramp)"/>
<rect x="668" y="13.9" width="49" height="534.3" fill="url(#a23)"/>
<rect x="668" y="13.9" width="49" height="534.3" fill="url(#a24)" mask="url(#ramp)"/>
<rect x="717" y="13.9" width="49" height="534.3" fill="url(#a24)"/>
<rect x="717" y="13.9" width="49" height="534.3" fill="url(#a25)" mask="url(#ramp)"/>
<rect x="766" y="13.9" width="48" height="534.3" fill="url(#a25)"/>
<rect x="766" y="13.9" width="48" height="534.3" fill="url(#a26)" mask="url(#ramp)"/>
<rect x="814" y="13.9" width="30" height="534.3" fill="url(#a26)"/>
<rect x="814" y="13.9" width="30" height="534.3" fill="url(#a27)" mask="url(#ramp)"/>
</g></g>
<g clip-path="url(#crb)"><g clip-path="url(#clb)"><g filter="url(#cm)">
<rect x="935" y="13.9" width="36" height="534.3" fill="url(#b0)"/>
<rect x="935" y="13.9" width="36" height="534.3" fill="url(#b1)" mask="url(#ramp)"/>
<rect x="971" y="13.9" width="14" height="534.3" fill="url(#b1)"/>
<rect x="971" y="13.9" width="14" height="534.3" fill="url(#b2)" mask="url(#ramp)"/>
<rect x="985" y="13.9" width="10" height="534.3" fill="url(#b2)"/>
<rect x="985" y="13.9" width="10" height="534.3" fill="url(#b3)" mask="url(#ramp)"/>
<rect x="995" y="13.9" width="49" height="534.3" fill="url(#b3)"/>
<rect x="995" y="13.9" width="49" height="534.3" fill="url(#b4)" mask="url(#ramp)"/>
<rect x="1044" y="13.9" width="121" height="534.3" fill="url(#b4)"/>
<rect x="1044" y="13.9" width="121" height="534.3" fill="url(#b5)" mask="url(#ramp)"/>
<rect x="1165" y="13.9" width="25" height="534.3" fill="url(#b5)"/>
<rect x="1165" y="13.9" width="25" height="534.3" fill="url(#b6)" mask="url(#ramp)"/>
<rect x="1190" y="13.9" width="97" height="534.3" fill="url(#b6)"/>
<rect x="1190" y="13.9" width="97" height="534.3" fill="url(#b7)" mask="url(#ramp)"/>
<rect x="1287" y="13.9" width="112" height="534.3" fill="url(#b7)"/>
<rect x="1287" y="13.9" width="112" height="534.3" fill="url(#b8)" mask="url(#ramp)"/>
<rect x="1399" y="13.9" width="83" height="534.3" fill="url(#b8)"/>
<rect x="1399" y="13.9" width="83" height="534.3" fill="url(#b9)" mask="url(#ramp)"/>
<rect x="1482" y="13.9" width="34" height="534.3" fill="url(#b9)"/>
<rect x="1482" y="13.9" width="34" height="534.3" fill="url(#b10)" mask="url(#ramp)"/>
<rect x="1516" y="13.9" width="19" height="534.3" fill="url(#b10)"/>
<rect x="1516" y="13.9" width="19" height="534.3" fill="url(#b11)" mask="url(#ramp)"/>
<rect x="1535" y="13.9" width="44" height="534.3" fill="url(#b11)"/>
<rect x="1535" y="13.9" width="44" height="534.3" fill="url(#b12)" mask="url(#ramp)"/>
<rect x="1579" y="13.9" width="20" height="534.3" fill="url(#b12)"/>
<rect x="1579" y="13.9" width="20" height="534.3" fill="url(#b13)" mask="url(#ramp)"/>
<rect x="1599" y="13.9" width="19" height="534.3" fill="url(#b13)"/>
<rect x="1599" y="13.9" width="19" height="534.3" fill="url(#b14)" mask="url(#ramp)"/>
<rect x="1618" y="13.9" width="39" height="534.3" fill="url(#b14)"/>
<rect x="1618" y="13.9" width="39" height="534.3" fill="url(#b15)" mask="url(#ramp)"/>
</g></g></g>
<g clip-path="url(#crc)"><g clip-path="url(#clc)"><g filter="url(#cm)">
<rect x="121" y="591.2" width="36" height="533.8" fill="url(#c0)"/>
<rect x="121" y="591.2" width="36" height="533.8" fill="url(#c1)" mask="url(#ramp)"/>
<rect x="157" y="591.2" width="15" height="533.8" fill="url(#c1)"/>
<rect x="157" y="591.2" width="15" height="533.8" fill="url(#c2)" mask="url(#ramp)"/>
<rect x="172" y="591.2" width="9" height="533.8" fill="url(#c2)"/>
<rect x="172" y="591.2" width="9" height="533.8" fill="url(#c3)" mask="url(#ramp)"/>
<rect x="181" y="591.2" width="49" height="533.8" fill="url(#c3)"/>
<rect x="181" y="591.2" width="49" height="533.8" fill="url(#c4)" mask="url(#ramp)"/>
<rect x="230" y="591.2" width="73" height="533.8" fill="url(#c4)"/>
<rect x="230" y="591.2" width="73" height="533.8" fill="url(#c5)" mask="url(#ramp)"/>
<rect x="303" y="591.2" width="73" height="533.8" fill="url(#c5)"/>
<rect x="303" y="591.2" width="73" height="533.8" fill="url(#c6)" mask="url(#ramp)"/>
<rect x="376" y="591.2" width="73" height="533.8" fill="url(#c6)"/>
<rect x="376" y="591.2" width="73" height="533.8" fill="url(#c7)" mask="url(#ramp)"/>
<rect x="449" y="591.2" width="122" height="533.8" fill="url(#c7)"/>
<rect x="449" y="591.2" width="122" height="533.8" fill="url(#c8)" mask="url(#ramp)"/>
<rect x="571" y="591.2" width="97" height="533.8" fill="url(#c8)"/>
<rect x="571" y="591.2" width="97" height="533.8" fill="url(#c9)" mask="url(#ramp)"/>
<rect x="668" y="591.2" width="20" height="533.8" fill="url(#c9)"/>
<rect x="668" y="591.2" width="20" height="533.8" fill="url(#c10)" mask="url(#ramp)"/>
<rect x="688" y="591.2" width="29" height="533.8" fill="url(#c10)"/>
<rect x="688" y="591.2" width="29" height="533.8" fill="url(#c11)" mask="url(#ramp)"/>
<rect x="717" y="591.2" width="10" height="533.8" fill="url(#c11)"/>
<rect x="717" y="591.2" width="10" height="533.8" fill="url(#c12)" mask="url(#ramp)"/>
<rect x="727" y="591.2" width="117" height="533.8" fill="url(#c12)"/>
<rect x="727" y="591.2" width="117" height="533.8" fill="url(#c13)" mask="url(#ramp)"/>
</g></g></g>
<g clip-path="url(#crd)"><g clip-path="url(#cld)"><g filter="url(#cm)">
<rect x="935" y="591.2" width="36" height="533.8" fill="url(#d0)"/>
<rect x="935" y="591.2" width="36" height="533.8" fill="url(#d1)" mask="url(#ramp)"/>
<rect x="971" y="591.2" width="24" height="533.8" fill="url(#d1)"/>
<rect x="971" y="591.2" width="24" height="533.8" fill="url(#d2)" mask="url(#ramp)"/>
<rect x="995" y="591.2" width="10" height="533.8" fill="url(#d2)"/>
<rect x="995" y="591.2" width="10" height="533.8" fill="url(#d3)" mask="url(#ramp)"/>
<rect x="1005" y="591.2" width="24" height="533.8" fill="url(#d3)"/>
<rect x="1005" y="591.2" width="24" height="533.8" fill="url(#d4)" mask="url(#ramp)"/>
<rect x="1029" y="591.2" width="24" height="533.8" fill="url(#d4)"/>
<rect x="1029" y="591.2" width="24" height="533.8" fill="url(#d5)" mask="url(#ramp)"/>
<rect x="1053" y="591.2" width="30" height="533.8" fill="url(#d5)"/>
<rect x="1053" y="591.2" width="30" height="533.8" fill="url(#d6)" mask="url(#ramp)"/>
<rect x="1083" y="591.2" width="34" height="533.8" fill="url(#d6)"/>
<rect x="1083" y="591.2" width="34" height="533.8" fill="url(#d7)" mask="url(#ramp)"/>
<rect x="1117" y="591.2" width="73" height="533.8" fill="url(#d7)"/>
<rect x="1117" y="591.2" width="73" height="533.8" fill="url(#d8)" mask="url(#ramp)"/>
<rect x="1190" y="591.2" width="82" height="533.8" fill="url(#d8)"/>
<rect x="1190" y="591.2" width="82" height="533.8" fill="url(#d9)" mask="url(#ramp)"/>
<rect x="1272" y="591.2" width="93" height="533.8" fill="url(#d9)"/>
<rect x="1272" y="591.2" width="93" height="533.8" fill="url(#d10)" mask="url(#ramp)"/>
<rect x="1365" y="591.2" width="83" height="533.8" fill="url(#d10)"/>
<rect x="1365" y="591.2" width="83" height="533.8" fill="url(#d11)" mask="url(#ramp)"/>
<rect x="1448" y="591.2" width="34" height="533.8" fill="url(#d11)"/>
<rect x="1448" y="591.2" width="34" height="533.8" fill="url(#d12)" mask="url(#ramp)"/>
<rect x="1482" y="591.2" width="19" height="533.8" fill="url(#d12)"/>
<rect x="1482" y="591.2" width="19" height="533.8" fill="url(#d13)" mask="url(#ramp)"/>
<rect x="1501" y="591.2" width="34" height="533.8" fill="url(#d13)"/>
<rect x="1501" y="591.2" width="34" height="533.8" fill="url(#d14)" mask="url(#ramp)"/>
<rect x="1535" y="591.2" width="44" height="533.8" fill="url(#d14)"/>
<rect x="1535" y="591.2" width="44" height="533.8" fill="url(#d15)" mask="url(#ramp)"/>
<rect x="1579" y="591.2" width="17" height="533.8" fill="url(#d15)"/>
<rect x="1579" y="591.2" width="17" height="533.8" fill="url(#d16)" mask="url(#ramp)"/>
<rect x="1596" y="591.2" width="8" height="533.8" fill="url(#d16)"/>
<rect x="1596" y="591.2" width="8" height="533.8" fill="url(#d17)" mask="url(#ramp)"/>
<rect x="1604" y="591.2" width="53" height="533.8" fill="url(#d17)"/>
<rect x="1604" y="591.2" width="53" height="533.8" fill="url(#d18)" mask="url(#ramp)"/>
</g></g></g>
<line x1="133.9" y1="281.05" x2="811.7" y2="281.05" stroke="#000" stroke-width="2.75" stroke-dasharray="8.9 4.37" stroke-dashoffset="8.87"/>
<path d="M133.9 147.48h13.7M133.9 281.05h13.7M133.9 414.62h13.7M158.11 548.2v-8M182.31 548.2v-14M206.52 548.2v-8M230.73 548.2v-8M254.94 548.2v-8M279.14 548.2v-8M303.35 548.2v-8M327.56 548.2v-8M351.76 548.2v-8M375.97 548.2v-8M400.18 548.2v-8M424.39 548.2v-14M448.59 548.2v-8M472.8 548.2v-8M497.01 548.2v-8M521.21 548.2v-8M545.42 548.2v-8M569.63 548.2v-8M593.84 548.2v-8M618.04 548.2v-8M642.25 548.2v-8M666.46 548.2v-14M690.66 548.2v-8M714.87 548.2v-8M739.08 548.2v-8M763.29 548.2v-8M787.49 548.2v-8" stroke="#000" stroke-width="2.7" fill="none"/>
<rect x="133.9" y="13.9" width="677.8" height="534.3" fill="none" stroke="#000" stroke-width="3.4"/>
<text x="140.3" y="67.3" font-size="50">(a)</text>
<text x="117.7" y="28.1" font-size="41.5" text-anchor="end">48</text>
<text x="117.7" y="161.68" font-size="41.5" text-anchor="end">24</text>
<text x="117.7" y="295.25" font-size="41.5" text-anchor="end">0</text>
<text x="117.7" y="428.82" font-size="41.5" text-anchor="end">−24</text>
<text x="117.7" y="562.4" font-size="41.5" text-anchor="end">−48</text>
<text transform="translate(29.4 283.65) rotate(-90)" font-size="41.8" text-anchor="middle">Time[hours]</text>
<g filter="url(#cd)"><rect x="821.1" y="38.7" width="29" height="509.5" fill="url(#cbg)"/><path d="M821.1 39L835.6 13.3L850.1 39z" fill="#fff"/></g>
<path d="M821.1 548.2L821.1 38.7L835.6 13.3L850.1 38.7L850.1 548.2z" fill="none" stroke="#000" stroke-width="3.4" stroke-linejoin="miter"/>
<text x="865.3" y="555.2" font-size="20.8">0.00</text>
<text x="865.3" y="491.51" font-size="20.8">1.25</text>
<text x="865.3" y="427.83" font-size="20.8">2.50</text>
<text x="865.3" y="364.14" font-size="20.8">3.75</text>
<text x="865.3" y="300.45" font-size="20.8">5.00</text>
<text x="865.3" y="236.76" font-size="20.8">6.25</text>
<text x="865.3" y="173.07" font-size="20.8">7.50</text>
<text x="865.3" y="109.39" font-size="20.8">8.75</text>
<text x="865.3" y="45.7" font-size="20.8">10.00</text>
<path d="M850.1 484.51h-14.6M850.1 420.83h-14.6M850.1 357.14h-14.6M850.1 293.45h-14.6M850.1 229.76h-14.6M850.1 166.07h-14.6M850.1 102.39h-14.6M850.1 38.7h-14.6" stroke="#000" stroke-width="3" fill="none"/>
<line x1="947.5" y1="281.05" x2="1625.8" y2="281.05" stroke="#000" stroke-width="2.75" stroke-dasharray="8.9 4.37" stroke-dashoffset="8.87"/>
<path d="M947.5 147.48h13.7M947.5 281.05h13.7M947.5 414.62h13.7M971.73 548.2v-8M995.95 548.2v-14M1020.17 548.2v-8M1044.4 548.2v-8M1068.62 548.2v-8M1092.85 548.2v-8M1117.08 548.2v-8M1141.3 548.2v-8M1165.53 548.2v-8M1189.75 548.2v-8M1213.97 548.2v-8M1238.2 548.2v-14M1262.42 548.2v-8M1286.65 548.2v-8M1310.88 548.2v-8M1335.1 548.2v-8M1359.32 548.2v-8M1383.55 548.2v-8M1407.77 548.2v-8M1432 548.2v-8M1456.22 548.2v-8M1480.45 548.2v-14M1504.67 548.2v-8M1528.9 548.2v-8M1553.12 548.2v-8M1577.35 548.2v-8M1601.58 548.2v-8" stroke="#000" stroke-width="2.7" fill="none"/>
<rect x="947.5" y="13.9" width="678.3" height="534.3" fill="none" stroke="#000" stroke-width="3.4"/>
<text x="953.9" y="67.3" font-size="50">(b)</text>
<g filter="url(#cd)"><rect x="1635.2" y="38.7" width="29" height="509.5" fill="url(#cbg)"/><path d="M1635.2 39L1649.7 13.3L1664.2 39z" fill="#fff"/></g>
<path d="M1635.2 548.2L1635.2 38.7L1649.7 13.3L1664.2 38.7L1664.2 548.2z" fill="none" stroke="#000" stroke-width="3.4" stroke-linejoin="miter"/>
<text x="1679.4" y="555.2" font-size="20.8">0.0</text>
<text x="1679.4" y="491.51" font-size="20.8">81.2</text>
<text x="1679.4" y="427.83" font-size="20.8">162.5</text>
<text x="1679.4" y="364.14" font-size="20.8">243.8</text>
<text x="1679.4" y="300.45" font-size="20.8">325.0</text>
<text x="1679.4" y="236.76" font-size="20.8">406.2</text>
<text x="1679.4" y="173.07" font-size="20.8">487.5</text>
<text x="1679.4" y="109.39" font-size="20.8">568.8</text>
<text x="1679.4" y="45.7" font-size="20.8">650.0</text>
<path d="M1664.2 484.51h-14.6M1664.2 420.83h-14.6M1664.2 357.14h-14.6M1664.2 293.45h-14.6M1664.2 229.76h-14.6M1664.2 166.07h-14.6M1664.2 102.39h-14.6M1664.2 38.7h-14.6" stroke="#000" stroke-width="3" fill="none"/>
<line x1="133.9" y1="858.1" x2="811.7" y2="858.1" stroke="#000" stroke-width="2.75" stroke-dasharray="8.9 4.37" stroke-dashoffset="8.87"/>
<path d="M133.9 724.65h13.7M133.9 858.1h13.7M133.9 991.55h13.7M158.11 1125v-8M182.31 1125v-14M206.52 1125v-8M230.73 1125v-8M254.94 1125v-8M279.14 1125v-8M303.35 1125v-8M327.56 1125v-8M351.76 1125v-8M375.97 1125v-8M400.18 1125v-8M424.39 1125v-14M448.59 1125v-8M472.8 1125v-8M497.01 1125v-8M521.21 1125v-8M545.42 1125v-8M569.63 1125v-8M593.84 1125v-8M618.04 1125v-8M642.25 1125v-8M666.46 1125v-14M690.66 1125v-8M714.87 1125v-8M739.08 1125v-8M763.29 1125v-8M787.49 1125v-8" stroke="#000" stroke-width="2.7" fill="none"/>
<rect x="133.9" y="591.2" width="677.8" height="533.8" fill="none" stroke="#000" stroke-width="3.4"/>
<text x="140.3" y="644.6" font-size="50">(c)</text>
<text x="117.7" y="605.4" font-size="41.5" text-anchor="end">48</text>
<text x="117.7" y="738.85" font-size="41.5" text-anchor="end">24</text>
<text x="117.7" y="872.3" font-size="41.5" text-anchor="end">0</text>
<text x="117.7" y="1005.75" font-size="41.5" text-anchor="end">−24</text>
<text x="117.7" y="1139.2" font-size="41.5" text-anchor="end">−48</text>
<text transform="translate(29.4 860.7) rotate(-90)" font-size="41.8" text-anchor="middle">Time[hours]</text>
<text x="182.71" y="1169.2" font-size="41.5" text-anchor="middle">1000</text>
<text x="424.79" y="1169.2" font-size="41.5" text-anchor="middle">950</text>
<text x="666.86" y="1169.2" font-size="41.5" text-anchor="middle">900</text>
<text x="473.8" y="1223.5" font-size="42" text-anchor="middle">Central Pressure[hPa]</text>
<g filter="url(#cd)"><rect x="821.1" y="616" width="29" height="509" fill="url(#cbg)"/><path d="M821.1 616.3L835.6 590.6L850.1 616.3z" fill="#fff"/></g>
<path d="M821.1 1125L821.1 616L835.6 590.6L850.1 616L850.1 1125z" fill="none" stroke="#000" stroke-width="3.4" stroke-linejoin="miter"/>
<text x="865.3" y="1132" font-size="20.8">0</text>
<text x="865.3" y="1068.38" font-size="20.8">75</text>
<text x="865.3" y="1004.75" font-size="20.8">150</text>
<text x="865.3" y="941.12" font-size="20.8">225</text>
<text x="865.3" y="877.5" font-size="20.8">300</text>
<text x="865.3" y="813.88" font-size="20.8">375</text>
<text x="865.3" y="750.25" font-size="20.8">450</text>
<text x="865.3" y="686.62" font-size="20.8">525</text>
<text x="865.3" y="623" font-size="20.8">600</text>
<path d="M850.1 1061.38h-14.6M850.1 997.75h-14.6M850.1 934.12h-14.6M850.1 870.5h-14.6M850.1 806.88h-14.6M850.1 743.25h-14.6M850.1 679.62h-14.6M850.1 616h-14.6" stroke="#000" stroke-width="3" fill="none"/>
<line x1="947.5" y1="858.1" x2="1625.8" y2="858.1" stroke="#000" stroke-width="2.75" stroke-dasharray="8.9 4.37" stroke-dashoffset="8.87"/>
<path d="M947.5 724.65h13.7M947.5 858.1h13.7M947.5 991.55h13.7M971.73 1125v-8M995.95 1125v-14M1020.17 1125v-8M1044.4 1125v-8M1068.62 1125v-8M1092.85 1125v-8M1117.08 1125v-8M1141.3 1125v-8M1165.53 1125v-8M1189.75 1125v-8M1213.97 1125v-8M1238.2 1125v-14M1262.42 1125v-8M1286.65 1125v-8M1310.88 1125v-8M1335.1 1125v-8M1359.32 1125v-8M1383.55 1125v-8M1407.77 1125v-8M1432 1125v-8M1456.22 1125v-8M1480.45 1125v-14M1504.67 1125v-8M1528.9 1125v-8M1553.12 1125v-8M1577.35 1125v-8M1601.58 1125v-8" stroke="#000" stroke-width="2.7" fill="none"/>
<rect x="947.5" y="591.2" width="678.3" height="533.8" fill="none" stroke="#000" stroke-width="3.4"/>
<text x="953.9" y="644.6" font-size="50">(d)</text>
<text x="996.35" y="1169.2" font-size="41.5" text-anchor="middle">1000</text>
<text x="1238.6" y="1169.2" font-size="41.5" text-anchor="middle">950</text>
<text x="1480.85" y="1169.2" font-size="41.5" text-anchor="middle">900</text>
<text x="1287.65" y="1223.5" font-size="42" text-anchor="middle">Central Pressure[hPa]</text>
<g filter="url(#cd)"><rect x="1635.2" y="616" width="29" height="509" fill="url(#cbg)"/><path d="M1635.2 616.3L1649.7 590.6L1664.2 616.3z" fill="#fff"/></g>
<path d="M1635.2 1125L1635.2 616L1649.7 590.6L1664.2 616L1664.2 1125z" fill="none" stroke="#000" stroke-width="3.4" stroke-linejoin="miter"/>
<text x="1679.4" y="1132" font-size="20.8">0</text>
<text x="1679.4" y="1068.38" font-size="20.8">25</text>
<text x="1679.4" y="1004.75" font-size="20.8">50</text>
<text x="1679.4" y="941.12" font-size="20.8">75</text>
<text x="1679.4" y="877.5" font-size="20.8">100</text>
<text x="1679.4" y="813.88" font-size="20.8">125</text>
<text x="1679.4" y="750.25" font-size="20.8">150</text>
<text x="1679.4" y="686.62" font-size="20.8">175</text>
<text x="1679.4" y="623" font-size="20.8">200</text>
<path d="M1664.2 1061.38h-14.6M1664.2 997.75h-14.6M1664.2 934.12h-14.6M1664.2 870.5h-14.6M1664.2 806.88h-14.6M1664.2 743.25h-14.6M1664.2 679.62h-14.6M1664.2 616h-14.6" stroke="#000" stroke-width="3" fill="none"/>
</svg></body></html>
